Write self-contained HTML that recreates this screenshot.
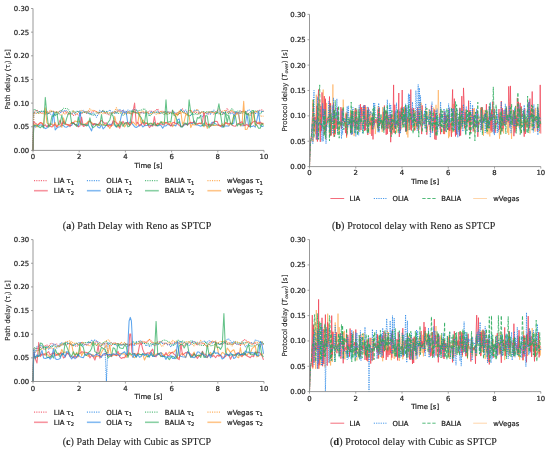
<!DOCTYPE html><html><head><meta charset="utf-8"><style>html,body{margin:0;padding:0;background:#fff;width:550px;height:451px;overflow:hidden}svg{display:block;filter:blur(0.3px)}text{stroke:#262626;stroke-width:0.22px}</style></head><body>
<svg width="550" height="451" viewBox="0 0 550 451" font-family='"DejaVu Sans", "Liberation Sans", sans-serif' font-size="6.9" fill="#262626">
<rect width="550" height="451" fill="#fff"/>
<polyline points="33.0,150.4 33.7,113.4 35.3,111.1 37.0,110.1 38.7,111.9 40.3,112.5 42.0,113.1 43.6,112.0 45.3,112.2 46.9,111.3 48.6,114.2 50.2,111.2 51.9,111.9 53.5,111.2 55.2,112.0 56.8,112.6 58.5,111.9 60.1,111.0 61.8,111.9 63.5,112.3 65.1,111.4 66.8,113.0 68.4,114.7 70.1,113.0 71.7,113.5 73.4,115.4 75.0,114.9 76.7,114.2 78.3,114.9 80.0,115.5 81.6,113.9 83.3,111.9 85.0,112.4 86.6,113.4 88.3,112.3 89.9,111.4 91.6,112.2 93.2,111.6 94.9,110.6 96.5,111.7 98.2,113.1 99.8,112.3 101.5,112.0 103.1,110.7 104.8,113.2 106.4,113.6 108.1,114.1 109.8,115.5 111.4,113.7 113.1,112.3 114.7,113.3 116.4,111.0 118.0,110.6 119.7,110.6 121.3,111.0 123.0,110.4 124.6,113.1 126.3,111.9 127.9,111.3 129.6,114.1 131.3,112.8 132.9,112.9 134.6,111.6 136.2,112.5 137.9,112.4 139.5,111.9 141.2,113.3 142.8,112.0 144.5,112.3 146.1,111.7 147.8,112.7 149.4,111.1 151.1,110.9 152.7,111.8 154.4,111.3 156.1,110.1 157.7,108.9 159.4,112.7 161.0,111.3 162.7,111.2 164.3,111.9 166.0,113.4 167.6,111.2 169.3,113.4 170.9,112.1 172.6,110.5 174.2,113.5 175.9,113.3 177.6,114.5 179.2,113.1 180.9,110.7 182.5,108.9 184.2,112.9 185.8,113.4 187.5,111.9 189.1,110.1 190.8,110.6 192.4,112.5 194.1,112.0 195.7,112.2 197.4,112.5 199.0,113.4 200.7,112.3 202.4,111.9 204.0,112.2 205.7,112.6 207.3,114.1 209.0,113.9 210.6,111.5 212.3,112.2 213.9,114.1 215.6,111.5 217.2,111.2 218.9,109.0 220.5,110.6 222.2,112.1 223.9,114.1 225.5,111.5 227.2,108.5 228.8,111.5 230.5,112.8 232.1,111.8 233.8,113.1 235.4,113.1 237.1,113.2 238.7,112.5 240.4,111.0 242.0,111.6 243.7,110.8 245.3,112.1 247.0,111.8 248.7,114.9 250.3,115.5 252.0,112.9 253.6,113.4 255.3,112.1 256.9,111.5 258.6,110.2 260.2,110.2 261.9,109.9 263.5,111.3" fill="none" stroke="#f03c50" stroke-width="1.05" stroke-dasharray="1 0.9" stroke-opacity="0.85" stroke-linejoin="round"/>
<polyline points="33.0,150.4 33.7,112.4 35.3,113.2 37.0,112.8 38.7,111.8 40.3,111.4 42.0,111.7 43.6,111.3 45.3,113.9 46.9,114.2 48.6,113.1 50.2,113.9 51.9,114.9 53.5,115.2 55.2,115.0 56.8,113.9 58.5,114.4 60.1,113.1 61.8,110.5 63.5,111.6 65.1,110.3 66.8,110.9 68.4,113.1 70.1,113.0 71.7,114.0 73.4,112.1 75.0,113.7 76.7,111.3 78.3,111.1 80.0,114.3 81.6,112.3 83.3,110.3 85.0,112.3 86.6,111.0 88.3,114.0 89.9,112.9 91.6,114.8 93.2,112.9 94.9,115.0 96.5,117.1 98.2,114.2 99.8,110.3 101.5,112.1 103.1,111.1 104.8,111.6 106.4,112.4 108.1,111.5 109.8,109.8 111.4,112.7 113.1,111.8 114.7,111.6 116.4,113.8 118.0,111.0 119.7,109.1 121.3,112.0 123.0,109.9 124.6,111.0 126.3,111.9 127.9,110.1 129.6,110.9 131.3,111.2 132.9,109.8 134.6,109.4 136.2,109.7 137.9,112.8 139.5,114.6 141.2,112.0 142.8,113.4 144.5,112.7 146.1,113.9 147.8,113.4 149.4,114.5 151.1,111.3 152.7,113.1 154.4,112.9 156.1,112.9 157.7,111.0 159.4,113.5 161.0,113.0 162.7,112.9 164.3,111.9 166.0,111.5 167.6,112.5 169.3,112.1 170.9,112.7 172.6,111.9 174.2,112.2 175.9,113.1 177.6,112.8 179.2,112.1 180.9,109.2 182.5,111.4 184.2,111.5 185.8,110.0 187.5,113.9 189.1,115.4 190.8,115.4 192.4,114.0 194.1,110.0 195.7,110.6 197.4,109.9 199.0,111.4 200.7,115.1 202.4,116.7 204.0,113.2 205.7,112.5 207.3,114.1 209.0,111.8 210.6,114.1 212.3,111.7 213.9,110.1 215.6,112.2 217.2,113.7 218.9,111.9 220.5,113.6 222.2,111.8 223.9,113.6 225.5,111.9 227.2,112.0 228.8,112.7 230.5,113.7 232.1,112.7 233.8,115.0 235.4,114.0 237.1,113.7 238.7,112.1 240.4,113.9 242.0,110.8 243.7,112.0 245.3,113.7 247.0,111.2 248.7,109.6 250.3,111.2 252.0,112.9 253.6,112.6 255.3,113.4 256.9,113.3 258.6,110.7 260.2,111.0 261.9,111.5 263.5,111.4" fill="none" stroke="#1e82e6" stroke-width="1.05" stroke-dasharray="1 0.9" stroke-opacity="0.85" stroke-linejoin="round"/>
<polyline points="33.0,150.4 33.7,109.4 35.3,109.7 37.0,111.2 38.7,113.5 40.3,111.0 42.0,111.3 43.6,111.3 45.3,111.4 46.9,113.2 48.6,113.2 50.2,112.4 51.9,111.0 53.5,111.6 55.2,116.0 56.8,114.5 58.5,113.0 60.1,110.9 61.8,110.7 63.5,108.2 65.1,108.4 66.8,108.6 68.4,109.2 70.1,112.6 71.7,111.3 73.4,111.0 75.0,112.4 76.7,111.6 78.3,111.4 80.0,112.5 81.6,112.6 83.3,112.8 85.0,112.3 86.6,112.8 88.3,111.9 89.9,114.6 91.6,113.8 93.2,115.3 94.9,114.4 96.5,112.7 98.2,112.5 99.8,112.5 101.5,112.3 103.1,110.3 104.8,112.8 106.4,111.4 108.1,113.8 109.8,113.7 111.4,112.8 113.1,113.7 114.7,112.7 116.4,111.6 118.0,113.5 119.7,113.0 121.3,113.2 123.0,115.3 124.6,114.1 126.3,114.2 127.9,111.5 129.6,113.1 131.3,110.5 132.9,112.1 134.6,109.7 136.2,110.3 137.9,110.7 139.5,110.5 141.2,110.2 142.8,109.4 144.5,108.6 146.1,110.9 147.8,113.3 149.4,116.3 151.1,114.8 152.7,112.6 154.4,112.0 156.1,112.0 157.7,112.6 159.4,113.3 161.0,113.2 162.7,112.2 164.3,114.6 166.0,112.5 167.6,114.3 169.3,113.5 170.9,113.8 172.6,113.5 174.2,114.3 175.9,114.8 177.6,113.9 179.2,114.5 180.9,110.2 182.5,111.8 184.2,112.9 185.8,113.4 187.5,114.3 189.1,116.5 190.8,114.8 192.4,113.1 194.1,114.7 195.7,113.5 197.4,114.5 199.0,113.5 200.7,112.4 202.4,111.8 204.0,111.5 205.7,112.8 207.3,111.4 209.0,112.5 210.6,112.0 212.3,111.2 213.9,112.2 215.6,113.9 217.2,112.3 218.9,113.8 220.5,114.2 222.2,114.7 223.9,112.4 225.5,112.6 227.2,115.4 228.8,112.9 230.5,109.9 232.1,108.8 233.8,111.3 235.4,111.7 237.1,111.4 238.7,110.7 240.4,111.5 242.0,113.3 243.7,111.9 245.3,111.3 247.0,113.6 248.7,113.4 250.3,112.5 252.0,112.5 253.6,111.7 255.3,111.0 256.9,111.0 258.6,111.8 260.2,113.8 261.9,112.3 263.5,110.5" fill="none" stroke="#28aa5a" stroke-width="1.05" stroke-dasharray="1 0.9" stroke-opacity="0.85" stroke-linejoin="round"/>
<polyline points="33.0,150.4 33.7,112.7 35.3,113.3 37.0,113.4 38.7,113.2 40.3,113.0 42.0,113.6 43.6,113.8 45.3,113.2 46.9,112.4 48.6,112.6 50.2,110.3 51.9,111.1 53.5,111.6 55.2,112.9 56.8,111.4 58.5,113.3 60.1,115.0 61.8,115.0 63.5,113.0 65.1,114.2 66.8,111.7 68.4,112.1 70.1,114.3 71.7,113.7 73.4,110.8 75.0,112.8 76.7,114.4 78.3,112.8 80.0,110.9 81.6,110.4 83.3,111.9 85.0,111.9 86.6,111.8 88.3,110.6 89.9,108.7 91.6,110.8 93.2,109.9 94.9,111.7 96.5,111.3 98.2,113.1 99.8,113.8 101.5,112.6 103.1,113.7 104.8,112.0 106.4,113.0 108.1,112.6 109.8,112.7 111.4,113.0 113.1,112.6 114.7,111.1 116.4,107.8 118.0,111.7 119.7,111.7 121.3,112.3 123.0,113.6 124.6,112.7 126.3,113.8 127.9,113.2 129.6,111.2 131.3,114.5 132.9,113.2 134.6,112.3 136.2,113.6 137.9,112.4 139.5,112.0 141.2,112.7 142.8,111.0 144.5,113.5 146.1,112.2 147.8,112.6 149.4,114.0 151.1,113.5 152.7,113.4 154.4,111.9 156.1,114.2 157.7,113.6 159.4,113.7 161.0,111.0 162.7,113.2 164.3,111.5 166.0,114.3 167.6,113.0 169.3,112.9 170.9,112.2 172.6,113.3 174.2,115.5 175.9,116.0 177.6,112.6 179.2,112.3 180.9,113.5 182.5,111.9 184.2,113.2 185.8,113.8 187.5,114.8 189.1,112.1 190.8,109.8 192.4,112.4 194.1,112.1 195.7,111.0 197.4,109.0 199.0,113.9 200.7,113.1 202.4,112.0 204.0,114.2 205.7,112.8 207.3,112.4 209.0,111.6 210.6,112.8 212.3,112.1 213.9,113.2 215.6,112.1 217.2,112.1 218.9,112.8 220.5,114.6 222.2,111.4 223.9,110.5 225.5,110.4 227.2,112.4 228.8,112.9 230.5,110.6 232.1,110.6 233.8,112.7 235.4,112.6 237.1,112.4 238.7,112.7 240.4,113.9 242.0,111.6 243.7,111.3 245.3,112.2 247.0,114.4 248.7,114.3 250.3,113.4 252.0,111.8 253.6,112.7 255.3,111.2 256.9,111.7 258.6,113.1 260.2,116.5 261.9,116.0 263.5,116.2" fill="none" stroke="#ff9628" stroke-width="1.05" stroke-dasharray="1 0.9" stroke-opacity="0.85" stroke-linejoin="round"/>
<polyline points="33.0,150.4 33.7,125.1 35.3,127.1 37.0,125.8 38.7,126.1 40.3,124.9 42.0,124.9 43.6,127.1 45.3,128.6 46.9,128.0 48.6,125.4 50.2,124.7 51.9,124.5 53.5,111.9 55.2,130.0 56.8,128.1 58.5,126.9 60.1,126.8 61.8,125.4 63.5,125.6 65.1,127.1 66.8,127.2 68.4,125.9 70.1,125.4 71.7,125.5 73.4,122.2 75.0,124.5 76.7,124.8 78.3,126.5 80.0,110.9 81.6,125.0 83.3,124.4 85.0,125.2 86.6,124.7 88.3,125.0 89.9,127.8 91.6,130.9 93.2,124.3 94.9,123.8 96.5,124.8 98.2,127.5 99.8,128.0 101.5,124.5 103.1,128.9 104.8,127.2 106.4,124.9 108.1,124.9 109.8,124.1 111.4,125.0 113.1,121.9 114.7,125.4 116.4,127.2 118.0,125.7 119.7,123.5 121.3,115.8 123.0,111.9 124.6,112.2 126.3,112.9 127.9,124.1 129.6,122.6 131.3,122.1 132.9,124.7 134.6,126.7 136.2,127.5 137.9,126.5 139.5,125.0 141.2,124.5 142.8,127.0 144.5,125.7 146.1,125.5 147.8,125.3 149.4,125.3 151.1,125.6 152.7,124.6 154.4,124.9 156.1,124.8 157.7,126.1 159.4,125.1 161.0,125.4 162.7,128.3 164.3,125.8 166.0,125.9 167.6,124.3 169.3,125.1 170.9,125.4 172.6,125.1 174.2,125.2 175.9,125.9 177.6,119.8 179.2,119.0 180.9,126.9 182.5,126.4 184.2,124.9 185.8,124.6 187.5,124.3 189.1,123.8 190.8,123.0 192.4,124.0 194.1,120.8 195.7,124.9 197.4,124.8 199.0,125.6 200.7,126.2 202.4,125.3 204.0,123.3 205.7,125.5 207.3,126.4 209.0,124.7 210.6,124.3 212.3,122.2 213.9,122.7 215.6,123.9 217.2,125.2 218.9,125.0 220.5,125.4 222.2,127.3 223.9,126.1 225.5,125.9 227.2,125.9 228.8,126.1 230.5,123.3 232.1,123.6 233.8,123.3 235.4,112.0 237.1,112.3 238.7,113.9 240.4,125.4 242.0,125.8 243.7,125.8 245.3,124.2 247.0,114.0 248.7,126.3 250.3,126.3 252.0,126.6 253.6,125.6 255.3,127.1 256.9,119.8 258.6,111.9 260.2,125.1 261.9,126.5 263.5,126.6" fill="none" stroke="#1e82e6" stroke-width="1.05" stroke-opacity="0.72" stroke-linejoin="round"/>
<polyline points="33.0,150.4 33.7,124.0 35.3,124.6 37.0,127.1 38.7,123.7 40.3,122.8 42.0,123.1 43.6,125.4 45.3,107.8 46.9,122.8 48.6,124.2 50.2,123.8 51.9,123.9 53.5,126.1 55.2,122.4 56.8,127.0 58.5,125.1 60.1,124.8 61.8,127.3 63.5,117.9 65.1,123.7 66.8,124.0 68.4,125.7 70.1,124.1 71.7,122.3 73.4,123.2 75.0,120.9 76.7,121.5 78.3,121.9 80.0,121.0 81.6,124.2 83.3,125.2 85.0,123.8 86.6,123.2 88.3,121.3 89.9,121.2 91.6,122.8 93.2,123.4 94.9,124.4 96.5,125.0 98.2,125.4 99.8,123.2 101.5,124.7 103.1,125.1 104.8,124.4 106.4,125.2 108.1,125.1 109.8,128.4 111.4,125.3 113.1,125.2 114.7,116.4 116.4,123.7 118.0,127.3 119.7,121.3 121.3,122.8 123.0,123.4 124.6,127.0 126.3,124.2 127.9,123.5 129.6,124.5 131.3,123.8 132.9,121.8 134.6,123.7 136.2,125.5 137.9,122.3 139.5,112.4 141.2,123.8 142.8,119.9 144.5,122.1 146.1,123.5 147.8,123.3 149.4,124.4 151.1,123.8 152.7,123.6 154.4,125.0 156.1,124.8 157.7,123.8 159.4,123.2 161.0,122.7 162.7,122.1 164.3,122.8 166.0,122.6 167.6,124.1 169.3,124.5 170.9,122.4 172.6,126.8 174.2,124.5 175.9,113.2 177.6,115.7 179.2,111.0 180.9,112.3 182.5,124.3 184.2,121.4 185.8,114.3 187.5,115.4 189.1,115.7 190.8,127.6 192.4,124.3 194.1,124.9 195.7,124.5 197.4,123.9 199.0,123.4 200.7,123.0 202.4,123.5 204.0,126.7 205.7,122.7 207.3,128.4 209.0,123.8 210.6,125.1 212.3,124.9 213.9,125.4 215.6,125.4 217.2,124.7 218.9,124.9 220.5,126.4 222.2,123.7 223.9,125.0 225.5,122.2 227.2,123.7 228.8,125.3 230.5,123.9 232.1,122.6 233.8,115.9 235.4,115.4 237.1,112.9 238.7,115.3 240.4,126.1 242.0,124.7 243.7,101.2 245.3,129.5 247.0,129.2 248.7,125.6 250.3,123.7 252.0,123.0 253.6,112.4 255.3,125.9 256.9,123.8 258.6,122.1 260.2,124.6 261.9,122.8 263.5,124.3" fill="none" stroke="#ff9628" stroke-width="1.05" stroke-opacity="0.72" stroke-linejoin="round"/>
<polyline points="33.0,150.4 33.7,121.4 35.3,123.1 37.0,124.3 38.7,124.6 40.3,122.5 42.0,123.2 43.6,126.2 45.3,124.9 46.9,126.8 48.6,124.8 50.2,126.3 51.9,127.1 53.5,125.0 55.2,124.5 56.8,127.0 58.5,123.9 60.1,120.1 61.8,125.0 63.5,121.2 65.1,124.0 66.8,124.8 68.4,124.6 70.1,126.7 71.7,122.8 73.4,122.6 75.0,124.7 76.7,124.7 78.3,126.9 80.0,125.7 81.6,117.1 83.3,126.5 85.0,125.7 86.6,124.4 88.3,122.3 89.9,120.9 91.6,123.5 93.2,125.0 94.9,123.6 96.5,124.4 98.2,124.6 99.8,122.3 101.5,120.4 103.1,122.0 104.8,123.5 106.4,122.8 108.1,126.7 109.8,125.1 111.4,126.2 113.1,120.7 114.7,121.4 116.4,122.7 118.0,123.7 119.7,128.2 121.3,124.4 123.0,121.3 124.6,124.1 126.3,122.8 127.9,122.2 129.6,125.9 131.3,123.1 132.9,112.2 134.6,103.1 136.2,123.4 137.9,122.4 139.5,126.0 141.2,124.6 142.8,122.3 144.5,125.4 146.1,122.8 147.8,124.2 149.4,127.6 151.1,125.6 152.7,126.3 154.4,116.6 156.1,126.1 157.7,123.0 159.4,124.8 161.0,123.7 162.7,124.8 164.3,124.8 166.0,122.2 167.6,122.9 169.3,124.2 170.9,126.2 172.6,122.8 174.2,122.2 175.9,123.8 177.6,123.4 179.2,125.5 180.9,126.3 182.5,126.3 184.2,124.3 185.8,123.5 187.5,125.1 189.1,123.1 190.8,122.2 192.4,122.9 194.1,121.7 195.7,123.5 197.4,124.0 199.0,123.1 200.7,123.7 202.4,122.4 204.0,112.7 205.7,122.1 207.3,124.5 209.0,124.4 210.6,126.5 212.3,123.9 213.9,121.7 215.6,121.2 217.2,121.4 218.9,125.6 220.5,125.9 222.2,125.5 223.9,126.2 225.5,122.9 227.2,123.2 228.8,123.7 230.5,123.0 232.1,125.2 233.8,126.0 235.4,126.3 237.1,124.0 238.7,123.4 240.4,122.7 242.0,121.6 243.7,125.3 245.3,125.4 247.0,124.3 248.7,126.4 250.3,125.8 252.0,122.9 253.6,121.6 255.3,121.1 256.9,122.7 258.6,123.8 260.2,122.0 261.9,123.8 263.5,123.3" fill="none" stroke="#f03c50" stroke-width="1.05" stroke-opacity="0.72" stroke-linejoin="round"/>
<polyline points="33.0,150.4 33.7,125.2 35.3,125.4 37.0,125.1 38.7,126.8 40.3,127.8 42.0,125.9 43.6,128.0 45.3,97.4 46.9,114.0 48.6,127.2 50.2,125.1 51.9,116.1 53.5,116.1 55.2,112.9 56.8,111.9 58.5,124.4 60.1,123.8 61.8,115.2 63.5,124.0 65.1,124.0 66.8,117.9 68.4,113.6 70.1,113.1 71.7,123.5 73.4,123.4 75.0,124.4 76.7,126.5 78.3,116.8 80.0,123.9 81.6,124.1 83.3,124.3 85.0,124.4 86.6,126.0 88.3,124.6 89.9,117.8 91.6,125.8 93.2,127.6 94.9,126.4 96.5,124.0 98.2,124.8 99.8,125.4 101.5,114.6 103.1,124.8 104.8,125.3 106.4,125.5 108.1,122.3 109.8,120.0 111.4,113.7 113.1,116.1 114.7,124.0 116.4,126.6 118.0,124.5 119.7,126.5 121.3,121.9 123.0,126.4 124.6,123.2 126.3,122.6 127.9,126.9 129.6,125.9 131.3,114.8 132.9,110.5 134.6,112.3 136.2,112.8 137.9,113.0 139.5,115.8 141.2,117.5 142.8,122.3 144.5,123.4 146.1,111.3 147.8,125.1 149.4,123.6 151.1,123.0 152.7,125.5 154.4,122.4 156.1,125.6 157.7,125.5 159.4,124.1 161.0,121.4 162.7,123.9 164.3,123.8 166.0,99.8 167.6,122.5 169.3,121.8 170.9,121.7 172.6,110.0 174.2,115.2 175.9,116.7 177.6,123.7 179.2,121.5 180.9,126.8 182.5,127.0 184.2,123.1 185.8,123.2 187.5,125.2 189.1,99.8 190.8,112.7 192.4,113.3 194.1,123.3 195.7,124.3 197.4,117.6 199.0,118.3 200.7,115.5 202.4,125.8 204.0,125.7 205.7,115.6 207.3,116.0 209.0,128.0 210.6,125.0 212.3,124.7 213.9,124.9 215.6,113.4 217.2,112.3 218.9,103.8 220.5,113.8 222.2,125.3 223.9,127.3 225.5,112.1 227.2,122.7 228.8,115.0 230.5,123.2 232.1,124.9 233.8,115.3 235.4,116.1 237.1,126.1 238.7,123.9 240.4,124.9 242.0,123.7 243.7,124.0 245.3,111.9 247.0,114.8 248.7,114.3 250.3,127.7 252.0,110.4 253.6,110.6 255.3,124.1 256.9,125.2 258.6,128.3 260.2,128.3 261.9,123.6 263.5,125.6" fill="none" stroke="#28aa5a" stroke-width="1.05" stroke-opacity="0.72" stroke-linejoin="round"/>
<path d="M33.00 8.50V150.40H264.00" fill="none" stroke="#8c8c8c" stroke-width="0.9"/>
<path d="M31.00 150.40H33.00" stroke="#8c8c8c" stroke-width="0.8"/>
<text x="29.20" y="152.80" text-anchor="end">0.00</text>
<path d="M31.00 126.75H33.00" stroke="#8c8c8c" stroke-width="0.8"/>
<text x="29.20" y="129.15" text-anchor="end">0.05</text>
<path d="M31.00 103.10H33.00" stroke="#8c8c8c" stroke-width="0.8"/>
<text x="29.20" y="105.50" text-anchor="end">0.10</text>
<path d="M31.00 79.45H33.00" stroke="#8c8c8c" stroke-width="0.8"/>
<text x="29.20" y="81.85" text-anchor="end">0.15</text>
<path d="M31.00 55.80H33.00" stroke="#8c8c8c" stroke-width="0.8"/>
<text x="29.20" y="58.20" text-anchor="end">0.20</text>
<path d="M31.00 32.15H33.00" stroke="#8c8c8c" stroke-width="0.8"/>
<text x="29.20" y="34.55" text-anchor="end">0.25</text>
<path d="M31.00 8.50H33.00" stroke="#8c8c8c" stroke-width="0.8"/>
<text x="29.20" y="10.90" text-anchor="end">0.30</text>
<path d="M33.00 150.40V152.40" stroke="#8c8c8c" stroke-width="0.8"/>
<text x="33.00" y="159.00" text-anchor="middle">0</text>
<path d="M79.20 150.40V152.40" stroke="#8c8c8c" stroke-width="0.8"/>
<text x="79.20" y="159.00" text-anchor="middle">2</text>
<path d="M125.40 150.40V152.40" stroke="#8c8c8c" stroke-width="0.8"/>
<text x="125.40" y="159.00" text-anchor="middle">4</text>
<path d="M171.60 150.40V152.40" stroke="#8c8c8c" stroke-width="0.8"/>
<text x="171.60" y="159.00" text-anchor="middle">6</text>
<path d="M217.80 150.40V152.40" stroke="#8c8c8c" stroke-width="0.8"/>
<text x="217.80" y="159.00" text-anchor="middle">8</text>
<path d="M264.00 150.40V152.40" stroke="#8c8c8c" stroke-width="0.8"/>
<text x="264.00" y="159.00" text-anchor="middle">10</text>
<text x="148.50" y="167.60" text-anchor="middle">Time [s]</text>
<text transform="translate(10.30 79.45) rotate(-90)" text-anchor="middle" style="stroke-width:0.12px">Path delay (τ<tspan font-size="4.6" dy="1.2">i</tspan><tspan dy="-1.2">) [s]</tspan></text>
<path d="M34.0 180.7h13.8" stroke="#f03c50" stroke-opacity="0.75" stroke-width="1.3" stroke-dasharray="1.1 1.2"/>
<path d="M34.0 190.7h13.8" stroke="#f03c50" stroke-opacity="0.55" stroke-width="1.6"/>
<text x="53.8" y="183.1">LIA τ<tspan font-size="5.2" dy="1.6">1</tspan></text>
<text x="53.8" y="193.1">LIA τ<tspan font-size="5.2" dy="1.6">2</tspan></text>
<path d="M86.9 180.7h13.8" stroke="#1e82e6" stroke-opacity="0.75" stroke-width="1.3" stroke-dasharray="1.1 1.2"/>
<path d="M86.9 190.7h13.8" stroke="#1e82e6" stroke-opacity="0.55" stroke-width="1.6"/>
<text x="106.3" y="183.1">OLIA τ<tspan font-size="5.2" dy="1.6">1</tspan></text>
<text x="106.3" y="193.1">OLIA τ<tspan font-size="5.2" dy="1.6">2</tspan></text>
<path d="M145.0 180.7h13.8" stroke="#28aa5a" stroke-opacity="0.75" stroke-width="1.3" stroke-dasharray="1.1 1.2"/>
<path d="M145.0 190.7h13.8" stroke="#28aa5a" stroke-opacity="0.55" stroke-width="1.6"/>
<text x="164.7" y="183.1">BALIA τ<tspan font-size="5.2" dy="1.6">1</tspan></text>
<text x="164.7" y="193.1">BALIA τ<tspan font-size="5.2" dy="1.6">2</tspan></text>
<path d="M207.4 180.7h13.8" stroke="#ff9628" stroke-opacity="0.75" stroke-width="1.3" stroke-dasharray="1.1 1.2"/>
<path d="M207.4 190.7h13.8" stroke="#ff9628" stroke-opacity="0.55" stroke-width="1.6"/>
<text x="227.0" y="183.1">wVegas τ<tspan font-size="5.2" dy="1.6">1</tspan></text>
<text x="227.0" y="193.1">wVegas τ<tspan font-size="5.2" dy="1.6">2</tspan></text>
<text x="62.7" y="228.7" font-family='"Liberation Serif", "DejaVu Serif", serif' font-size="10" fill="#222" style="stroke-width:0.1px;stroke:#222" textLength="148.5" lengthAdjust="spacing">(<tspan font-weight="bold">a</tspan>) Path Delay with Reno as SPTCP</text>
<polyline points="309.5,166.6 310.4,143.8 311.4,136.2 312.3,141.0 312.8,99.5 313.4,141.6 314.0,115.2 314.6,114.1 315.1,114.1 315.7,134.2 316.3,94.7 316.9,130.6 317.4,118.4 318.0,118.2 318.6,116.2 319.1,132.3 319.7,100.0 320.3,132.9 320.9,113.9 321.4,115.8 322.0,121.9 322.6,118.1 323.2,89.5 323.7,136.1 324.3,119.6 324.9,122.9 325.4,99.9 326.0,139.6 326.6,102.9 327.2,121.4 327.7,121.9 328.3,123.8 328.9,124.6 329.5,103.2 330.0,133.8 330.6,122.4 331.2,119.6 331.7,125.3 332.3,120.1 332.9,84.4 333.5,134.6 334.0,108.3 334.6,134.6 335.2,117.9 335.8,120.3 336.3,121.5 336.9,124.9 337.5,121.2 338.0,131.2 338.6,113.3 339.2,132.9 339.8,124.9 340.3,126.8 340.9,123.1 341.5,120.0 342.1,122.5 342.6,124.9 343.2,99.6 343.8,114.3 344.3,121.1 344.9,125.3 345.5,124.6 346.1,112.3 346.6,138.0 347.2,112.3 347.8,117.9 348.4,122.5 348.9,123.4 349.5,119.0 350.1,117.7 350.6,110.3 351.2,125.5 351.8,124.6 352.4,121.3 352.9,119.7 353.5,111.1 354.1,136.2 354.7,110.9 355.2,126.4 355.8,122.7 356.4,123.6 356.9,120.4 357.5,121.0 358.1,122.1 358.7,131.9 359.2,108.5 359.8,132.1 360.4,122.5 361.0,119.7 361.5,118.4 362.1,108.7 362.7,125.7 363.2,107.2 363.8,119.1 364.4,120.0 365.0,106.7 365.5,125.2 366.1,107.0 366.7,125.0 367.3,117.9 367.8,118.0 368.4,120.7 369.0,123.4 369.5,113.9 370.1,134.0 370.7,111.1 371.3,129.5 371.8,122.8 372.4,126.1 373.0,124.3 373.6,109.4 374.1,128.7 374.7,114.0 375.3,134.1 375.9,127.2 376.4,124.1 377.0,119.8 377.6,121.4 378.1,106.1 378.7,122.4 379.3,121.9 379.9,119.5 380.4,120.1 381.0,120.2 381.6,116.9 382.2,132.0 382.7,107.1 383.3,129.0 383.9,110.4 384.4,121.0 385.0,118.2 385.6,119.1 386.2,110.4 386.7,126.6 387.3,112.9 387.9,116.2 388.5,118.2 389.0,119.2 389.6,131.6 390.2,114.6 390.7,132.5 391.3,116.3 391.9,128.9 392.5,128.3 393.0,114.8 393.6,132.3 394.2,111.2 394.8,117.3 395.3,120.1 395.9,121.9 396.5,132.8 397.0,111.6 397.6,127.4 398.2,112.2 398.8,123.4 399.3,124.5 399.9,133.2 400.5,112.5 401.1,129.2 401.6,106.6 402.2,118.5 402.8,121.8 403.3,119.2 403.9,116.4 404.5,106.4 405.1,128.1 405.6,124.7 406.2,123.3 406.8,134.5 407.4,116.8 407.9,137.5 408.5,112.1 409.1,119.2 409.6,122.5 410.2,120.4 410.8,112.4 411.4,127.4 411.9,119.0 412.5,119.7 413.1,123.3 413.7,121.7 414.2,121.0 414.8,110.7 415.4,130.2 415.9,110.7 416.5,127.5 417.1,118.0 417.7,113.7 418.2,110.1 418.8,111.5 419.4,123.3 420.0,102.4 420.5,125.7 421.1,102.6 421.7,119.0 422.2,120.8 422.8,120.4 423.4,116.8 424.0,117.9 424.5,120.6 425.1,127.6 425.7,106.9 426.3,129.6 426.8,116.0 427.4,115.5 428.0,114.4 428.5,118.9 429.1,109.2 429.7,130.5 430.3,119.3 430.8,113.2 431.4,119.1 432.0,121.2 432.6,118.9 433.1,121.8 433.7,107.6 434.3,131.4 434.8,118.8 435.4,119.8 436.0,104.8 436.6,128.5 437.1,114.0 437.7,112.5 438.3,90.0 438.9,114.9 439.4,114.2 440.0,129.6 440.6,108.6 441.1,119.3 441.7,122.6 442.3,123.6 442.9,120.6 443.4,133.9 444.0,110.3 444.6,134.1 445.2,112.6 445.7,125.2 446.3,123.5 446.9,125.8 447.4,128.6 448.0,116.2 448.6,138.2 449.2,113.9 449.7,136.6 450.3,126.6 450.9,122.5 451.5,125.1 452.0,115.0 452.6,132.5 453.2,103.9 453.7,120.2 454.3,121.3 454.9,132.0 455.5,111.4 456.0,133.1 456.6,109.5 457.2,122.1 457.8,122.0 458.3,121.6 458.9,132.0 459.5,107.8 460.0,128.2 460.6,117.3 461.2,114.9 461.8,128.9 462.3,105.2 462.9,125.4 463.5,120.8 464.1,117.7 464.6,119.8 465.2,130.9 465.8,109.2 466.3,126.7 466.9,124.1 467.5,118.4 468.1,123.2 468.6,117.7 469.2,117.6 469.8,125.6 470.4,111.2 470.9,124.3 471.5,114.2 472.1,119.4 472.6,119.2 473.2,108.7 473.8,128.3 474.4,108.1 474.9,133.4 475.5,124.2 476.1,124.2 476.7,120.8 477.2,113.5 477.8,128.7 478.4,118.7 478.9,116.4 479.5,120.8 480.1,119.5 480.7,107.9 481.2,130.4 481.8,117.4 482.4,117.6 483.0,121.5 483.5,135.9 484.1,109.9 484.7,122.9 485.2,122.2 485.8,122.8 486.4,119.0 487.0,133.6 487.5,111.6 488.1,134.4 488.7,120.9 489.3,123.0 489.8,136.5 490.4,112.8 491.0,133.0 491.5,109.0 492.1,121.4 492.7,123.2 493.3,124.5 493.8,129.5 494.4,112.6 495.0,131.3 495.6,115.6 496.1,124.6 496.7,127.4 497.3,127.3 497.8,130.0 498.4,129.7 499.0,130.1 499.6,138.8 500.1,113.8 500.7,134.6 501.3,113.1 501.9,117.7 502.4,122.6 503.0,110.2 503.6,133.4 504.1,111.4 504.7,122.7 505.3,118.2 505.9,118.1 506.4,119.7 507.0,122.1 507.6,132.8 508.2,114.5 508.7,135.0 509.3,122.7 509.9,123.4 510.4,123.4 511.0,124.6 511.6,139.0 512.2,116.4 512.7,128.3 513.3,127.3 513.9,124.8 514.5,121.2 515.0,130.3 515.6,105.7 516.2,129.0 516.7,118.0 517.3,124.5 517.9,123.1 518.5,124.4 519.0,127.8 519.6,123.6 520.2,114.0 520.8,133.1 521.3,115.2 521.9,125.2 522.5,124.6 523.0,124.8 523.6,123.8 524.2,113.0 524.8,131.3 525.3,116.9 525.9,124.9 526.5,126.6 527.1,128.0 527.6,125.7 528.2,120.7 528.8,127.1 529.3,112.4 529.9,133.4 530.5,110.1 531.1,127.6 531.6,119.8 532.2,119.5 532.8,113.7 533.4,116.9 533.9,125.1 534.5,126.9 535.1,131.7 535.6,107.9 536.2,119.7 536.8,127.3 537.4,127.4 537.9,126.8 538.5,126.3 539.1,113.7 539.7,133.2 540.2,123.6 540.8,124.7" fill="none" stroke="#ff9628" stroke-width="0.95" stroke-opacity="0.5" stroke-linejoin="round"/>
<polyline points="309.5,166.6 310.4,143.8 311.4,136.2 312.3,117.3 312.8,114.6 313.4,102.4 314.0,131.2 314.6,117.9 315.1,117.0 315.7,119.2 316.3,139.6 316.9,105.9 317.4,141.6 318.0,100.5 318.6,89.5 319.1,121.3 319.7,122.2 320.3,141.9 320.9,106.2 321.4,131.0 322.0,92.4 322.6,116.3 323.2,117.7 323.7,112.4 324.3,96.1 324.9,133.3 325.4,98.7 326.0,130.3 326.6,121.6 327.2,118.4 327.7,118.2 328.3,120.1 328.9,121.0 329.5,96.5 330.0,136.1 330.6,103.2 331.2,135.5 331.7,119.7 332.3,121.8 332.9,120.5 333.5,103.2 334.0,136.9 334.6,110.6 335.2,134.3 335.8,118.0 336.3,118.5 336.9,128.9 337.5,107.6 338.0,123.2 338.6,122.6 339.2,122.8 339.8,122.5 340.3,124.7 340.9,107.1 341.5,128.8 342.1,108.7 342.6,120.9 343.2,117.6 343.8,122.1 344.3,122.9 344.9,121.8 345.5,133.1 346.1,113.6 346.6,136.4 347.2,125.1 347.8,126.0 348.4,124.2 348.9,123.8 349.5,120.0 350.1,123.8 350.6,132.9 351.2,112.8 351.8,134.6 352.4,113.6 352.9,126.7 353.5,120.2 354.1,121.9 354.7,121.7 355.2,108.3 355.8,128.3 356.4,109.5 356.9,130.0 357.5,120.4 358.1,118.0 358.7,121.4 359.2,120.1 359.8,117.7 360.4,104.1 361.0,130.0 361.5,107.2 362.1,115.4 362.7,114.9 363.2,115.4 363.8,105.3 364.4,130.9 365.0,105.1 365.5,130.3 366.1,120.0 366.7,119.1 367.3,110.2 367.8,135.0 368.4,107.6 369.0,118.6 369.5,124.1 370.1,124.8 370.7,124.0 371.3,118.2 371.8,135.9 372.4,114.1 373.0,139.4 373.6,117.1 374.1,124.6 374.7,120.8 375.3,119.3 375.9,123.1 376.4,119.9 377.0,119.1 377.6,128.1 378.1,109.5 378.7,131.1 379.3,107.5 379.9,124.4 380.4,123.8 381.0,120.5 381.6,122.0 382.2,128.1 382.7,121.3 383.3,112.0 383.9,130.3 384.4,105.5 385.0,116.0 385.6,121.8 386.2,134.8 386.7,111.3 387.3,134.1 387.9,115.0 388.5,125.9 389.0,128.4 389.6,126.4 390.2,114.1 390.7,142.2 391.3,114.5 391.9,134.4 392.5,124.4 393.0,124.5 393.6,84.9 394.2,133.0 394.8,104.7 395.3,128.3 395.9,123.6 396.5,123.4 397.0,122.8 397.6,125.1 398.2,122.3 398.8,93.0 399.3,136.9 399.9,111.5 400.5,130.9 401.1,107.7 401.6,118.6 402.2,90.0 402.8,124.8 403.3,118.3 403.9,118.8 404.5,120.9 405.1,107.3 405.6,131.6 406.2,108.2 406.8,130.9 407.4,122.1 407.9,117.6 408.5,120.5 409.1,121.8 409.6,119.1 410.2,129.6 410.8,89.5 411.4,130.6 411.9,108.4 412.5,116.1 413.1,118.3 413.7,108.0 414.2,130.7 414.8,123.6 415.4,119.8 415.9,121.1 416.5,118.2 417.1,126.6 417.7,107.4 418.2,130.7 418.8,111.9 419.4,120.5 420.0,122.6 420.5,124.3 421.1,124.3 421.7,134.1 422.2,105.4 422.8,123.8 423.4,122.3 424.0,122.3 424.5,123.9 425.1,118.4 425.7,120.9 426.3,111.5 426.8,134.7 427.4,128.0 428.0,125.4 428.5,123.7 429.1,121.5 429.7,122.9 430.3,125.4 430.8,132.9 431.4,105.5 432.0,124.1 432.6,125.7 433.1,128.3 433.7,125.0 434.3,109.4 434.8,139.3 435.4,113.6 436.0,139.9 436.6,128.6 437.1,128.4 437.7,126.6 438.3,125.0 438.9,126.0 439.4,124.1 440.0,113.3 440.6,134.2 441.1,125.4 441.7,125.2 442.3,126.0 442.9,126.9 443.4,127.2 444.0,134.1 444.6,112.2 445.2,131.4 445.7,115.5 446.3,122.7 446.9,116.4 447.4,117.0 448.0,115.2 448.6,129.9 449.2,108.4 449.7,131.0 450.3,125.4 450.9,123.2 451.5,136.8 452.0,108.7 452.6,89.5 453.2,124.1 453.7,123.7 454.3,98.6 454.9,121.9 455.5,136.5 456.0,113.3 456.6,134.8 457.2,122.7 457.8,119.2 458.3,119.5 458.9,121.3 459.5,136.2 460.0,108.3 460.6,135.6 461.2,119.2 461.8,96.1 462.3,123.9 462.9,121.9 463.5,87.9 464.1,102.1 464.6,128.1 465.2,112.1 465.8,122.3 466.3,121.5 466.9,120.3 467.5,122.4 468.1,121.3 468.6,100.6 469.2,130.0 469.8,110.4 470.4,133.3 470.9,119.2 471.5,120.2 472.1,119.2 472.6,108.6 473.2,131.5 473.8,115.8 474.4,125.9 474.9,125.8 475.5,124.1 476.1,126.4 476.7,122.1 477.2,110.3 477.8,136.8 478.4,122.1 478.9,124.6 479.5,122.9 480.1,122.5 480.7,120.9 481.2,107.2 481.8,129.7 482.4,107.4 483.0,117.7 483.5,122.2 484.1,118.9 484.7,117.2 485.2,112.9 485.8,119.3 486.4,104.1 487.0,128.7 487.5,119.5 488.1,117.4 488.7,127.8 489.3,106.3 489.8,117.8 490.4,115.4 491.0,130.5 491.5,110.4 492.1,131.8 492.7,101.7 493.3,118.3 493.8,117.7 494.4,109.1 495.0,133.0 495.6,123.1 496.1,124.5 496.7,122.7 497.3,124.0 497.8,120.4 498.4,117.7 499.0,109.0 499.6,129.6 500.1,115.1 500.7,114.3 501.3,101.0 501.9,131.6 502.4,108.2 503.0,128.9 503.6,119.4 504.1,116.0 504.7,123.7 505.3,109.1 505.9,125.1 506.4,107.8 507.0,117.8 507.6,120.3 508.2,122.4 508.7,86.4 509.3,101.7 509.9,126.3 510.4,85.9 511.0,117.3 511.6,117.6 512.2,123.2 512.7,123.2 513.3,110.0 513.9,136.2 514.5,111.4 515.0,132.6 515.6,116.2 516.2,115.4 516.7,126.9 517.3,97.9 517.9,125.4 518.5,101.7 519.0,113.8 519.6,114.7 520.2,102.9 520.8,126.0 521.3,106.3 521.9,117.0 522.5,114.0 523.0,115.6 523.6,118.7 524.2,136.7 524.8,108.5 525.3,134.0 525.9,121.3 526.5,122.4 527.1,125.4 527.6,118.0 528.2,119.4 528.8,102.0 529.3,128.2 529.9,98.6 530.5,115.4 531.1,113.7 531.6,118.0 532.2,91.5 532.8,122.0 533.4,129.8 533.9,109.3 534.5,121.1 535.1,121.0 535.6,118.8 536.2,118.4 536.8,120.8 537.4,131.3 537.9,107.3 538.5,122.3 539.1,123.3 539.7,126.6 540.2,84.9 540.8,133.6" fill="none" stroke="#f03c50" stroke-width="0.95" stroke-opacity="0.75" stroke-linejoin="round"/>
<polyline points="309.5,166.6 310.4,143.8 311.4,136.2 312.3,124.1 312.8,143.8 313.4,104.3 314.0,90.5 314.6,125.4 315.1,123.5 315.7,120.9 316.3,119.8 316.9,139.4 317.4,96.8 318.0,139.7 318.6,123.0 319.1,124.3 319.7,121.8 320.3,124.8 320.9,124.8 321.4,123.8 322.0,141.4 322.6,103.3 323.2,141.4 323.7,108.7 324.3,124.6 324.9,123.9 325.4,109.3 326.0,143.8 326.6,125.2 327.2,126.5 327.7,123.0 328.3,118.1 328.9,101.0 329.5,130.5 330.0,120.3 330.6,119.3 331.2,119.4 331.7,121.8 332.3,105.5 332.9,133.8 333.5,97.9 334.0,116.2 334.6,113.5 335.2,119.2 335.8,118.0 336.3,118.5 336.9,98.8 337.5,132.8 338.0,110.6 338.6,124.2 339.2,122.7 339.8,121.2 340.3,123.4 340.9,126.7 341.5,138.7 342.1,110.9 342.6,134.3 343.2,109.4 343.8,121.2 344.3,117.8 344.9,122.6 345.5,119.1 346.1,122.1 346.6,120.1 347.2,106.3 347.8,127.7 348.4,105.9 348.9,125.5 349.5,123.0 350.1,117.5 350.6,121.4 351.2,134.9 351.8,110.9 352.4,134.1 352.9,107.2 353.5,119.5 354.1,120.1 354.7,133.1 355.2,111.9 355.8,136.5 356.4,124.0 356.9,120.9 357.5,120.0 358.1,125.7 358.7,135.2 359.2,105.3 359.8,130.3 360.4,109.8 361.0,118.3 361.5,121.7 362.1,122.6 362.7,133.7 363.2,106.1 363.8,129.1 364.4,105.1 365.0,118.3 365.5,117.8 366.1,124.1 366.7,124.2 367.3,117.1 367.8,106.6 368.4,132.8 369.0,109.1 369.5,115.9 370.1,115.0 370.7,111.1 371.3,114.0 371.8,113.3 372.4,116.2 373.0,129.1 373.6,102.6 374.1,126.2 374.7,103.1 375.3,112.9 375.9,115.2 376.4,115.1 377.0,114.7 377.6,115.4 378.1,132.6 378.7,103.1 379.3,132.2 379.9,123.0 380.4,117.4 381.0,121.4 381.6,120.0 382.2,121.2 382.7,123.4 383.3,130.7 383.9,107.6 384.4,120.6 385.0,118.2 385.6,121.4 386.2,119.9 386.7,127.8 387.3,99.7 387.9,111.9 388.5,122.1 389.0,119.1 389.6,103.7 390.2,132.3 390.7,104.6 391.3,121.5 391.9,120.4 392.5,121.5 393.0,119.7 393.6,123.8 394.2,124.2 394.8,127.7 395.3,110.8 395.9,129.1 396.5,102.8 397.0,125.0 397.6,119.2 398.2,125.1 398.8,128.1 399.3,133.6 399.9,109.7 400.5,133.4 401.1,119.2 401.6,119.6 402.2,115.8 402.8,122.6 403.3,106.8 403.9,119.0 404.5,116.4 405.1,125.0 405.6,103.8 406.2,131.2 406.8,105.6 407.4,117.3 407.9,110.7 408.5,93.7 409.1,123.2 409.6,94.3 410.2,110.4 410.8,116.5 411.4,116.5 411.9,125.1 412.5,102.0 413.1,125.6 413.7,117.3 414.2,114.4 414.8,120.6 415.4,120.9 415.9,90.5 416.5,105.6 417.1,130.5 417.7,112.1 418.2,84.4 418.8,124.4 419.4,87.9 420.0,127.0 420.5,95.5 421.1,119.5 421.7,114.9 422.2,120.0 422.8,119.9 423.4,121.4 424.0,125.0 424.5,110.6 425.1,128.9 425.7,103.6 426.3,128.9 426.8,116.6 427.4,119.8 428.0,115.5 428.5,118.9 429.1,125.1 429.7,109.2 430.3,137.4 430.8,117.6 431.4,119.6 432.0,101.8 432.6,133.2 433.1,120.8 433.7,119.4 434.3,120.2 434.8,117.3 435.4,119.7 436.0,110.1 436.6,128.5 437.1,108.7 437.7,132.3 438.3,118.0 438.9,118.0 439.4,117.3 440.0,128.0 440.6,101.8 441.1,123.0 441.7,113.7 442.3,115.3 442.9,118.4 443.4,125.8 444.0,108.5 444.6,131.1 445.2,110.5 445.7,122.6 446.3,116.4 446.9,122.7 447.4,124.6 448.0,129.1 448.6,103.7 449.2,127.7 449.7,107.5 450.3,122.6 450.9,121.3 451.5,121.7 452.0,118.6 452.6,109.1 453.2,130.0 453.7,108.2 454.3,130.6 454.9,118.8 455.5,119.0 456.0,119.7 456.6,133.6 457.2,109.7 457.8,137.4 458.3,121.6 458.9,122.0 459.5,135.5 460.0,107.9 460.6,122.5 461.2,126.3 461.8,122.1 462.3,110.8 462.9,131.5 463.5,104.3 464.1,121.1 464.6,124.7 465.2,121.4 465.8,133.4 466.3,106.4 466.9,126.8 467.5,118.0 468.1,115.3 468.6,116.6 469.2,113.1 469.8,121.2 470.4,101.3 470.9,111.4 471.5,114.1 472.1,120.9 472.6,104.9 473.2,128.4 473.8,116.0 474.4,119.8 474.9,117.1 475.5,111.6 476.1,126.6 476.7,108.7 477.2,132.0 477.8,116.6 478.4,114.1 478.9,116.1 479.5,118.4 480.1,117.7 480.7,131.4 481.2,110.0 481.8,127.8 482.4,121.3 483.0,122.7 483.5,119.5 484.1,123.3 484.7,113.8 485.2,132.8 485.8,112.1 486.4,120.7 487.0,123.3 487.5,125.5 488.1,120.6 488.7,128.8 489.3,106.4 489.8,125.6 490.4,102.4 491.0,118.4 491.5,114.3 492.1,116.0 492.7,123.4 493.3,133.2 493.8,110.1 494.4,135.1 495.0,120.6 495.6,119.0 496.1,120.5 496.7,109.0 497.3,133.0 497.8,113.6 498.4,131.5 499.0,121.4 499.6,120.4 500.1,117.8 500.7,127.4 501.3,101.8 501.9,116.0 502.4,115.3 503.0,122.2 503.6,118.7 504.1,109.7 504.7,125.9 505.3,103.9 505.9,113.7 506.4,116.7 507.0,121.6 507.6,116.2 508.2,119.1 508.7,120.2 509.3,106.3 509.9,128.1 510.4,113.9 511.0,133.1 511.6,121.0 512.2,118.8 512.7,115.8 513.3,116.8 513.9,126.0 514.5,107.7 515.0,126.7 515.6,118.0 516.2,117.5 516.7,118.3 517.3,120.2 517.9,121.3 518.5,121.9 519.0,104.9 519.6,129.2 520.2,120.3 520.8,115.6 521.3,118.8 521.9,119.5 522.5,118.7 523.0,109.3 523.6,130.6 524.2,105.0 524.8,119.1 525.3,119.1 525.9,116.8 526.5,115.7 527.1,110.7 527.6,113.4 528.2,103.0 528.8,130.4 529.3,100.6 529.9,125.7 530.5,115.2 531.1,116.7 531.6,115.7 532.2,120.4 532.8,121.8 533.4,132.3 533.9,104.4 534.5,128.4 535.1,122.4 535.6,120.1 536.2,121.6 536.8,122.7 537.4,107.1 537.9,135.1 538.5,110.2 539.1,131.4 539.7,117.4 540.2,118.2 540.8,119.7" fill="none" stroke="#1e82e6" stroke-width="0.95" stroke-dasharray="1.2 1.1" stroke-opacity="0.8" stroke-linejoin="round"/>
<polyline points="309.5,166.6 310.4,143.8 311.4,136.2 312.3,123.0 312.8,122.1 313.4,99.9 314.0,137.8 314.6,121.3 315.1,121.1 315.7,122.4 316.3,124.1 316.9,122.7 317.4,121.0 318.0,103.8 318.6,139.4 319.1,95.9 319.7,84.9 320.3,124.0 320.9,123.5 321.4,124.8 322.0,123.1 322.6,126.9 323.2,129.2 323.7,115.7 324.3,135.9 324.9,110.2 325.4,138.9 326.0,125.3 326.6,125.7 327.2,123.4 327.7,120.1 328.3,116.6 328.9,120.5 329.5,140.9 330.0,105.8 330.6,135.2 331.2,113.4 331.7,122.5 332.3,123.3 332.9,129.8 333.5,127.6 334.0,109.5 334.6,136.6 335.2,100.4 335.8,117.5 336.3,112.1 336.9,117.2 337.5,117.9 338.0,135.6 338.6,105.9 339.2,138.2 339.8,120.7 340.3,125.3 340.9,125.9 341.5,125.1 342.1,121.7 342.6,120.3 343.2,106.7 343.8,129.7 344.3,121.1 344.9,123.0 345.5,127.4 346.1,127.9 346.6,114.7 347.2,134.3 347.8,125.6 348.4,118.7 348.9,119.8 349.5,123.8 350.1,117.6 350.6,134.0 351.2,102.0 351.8,132.3 352.4,109.8 352.9,121.2 353.5,121.8 354.1,119.0 354.7,121.7 355.2,132.7 355.8,108.1 356.4,120.9 356.9,123.3 357.5,135.3 358.1,109.5 358.7,129.7 359.2,112.4 359.8,121.3 360.4,123.0 361.0,118.0 361.5,121.4 362.1,121.9 362.7,122.0 363.2,133.7 363.8,112.0 364.4,119.7 365.0,121.5 365.5,120.6 366.1,124.2 366.7,127.3 367.3,133.1 367.8,110.7 368.4,132.6 369.0,122.2 369.5,121.7 370.1,125.9 370.7,122.8 371.3,116.6 371.8,117.8 372.4,129.2 373.0,108.9 373.6,123.0 374.1,106.2 374.7,118.0 375.3,117.6 375.9,117.0 376.4,118.1 377.0,121.6 377.6,121.9 378.1,130.7 378.7,109.7 379.3,126.9 379.9,122.9 380.4,123.8 381.0,113.6 381.6,129.3 382.2,120.9 382.7,125.2 383.3,118.9 383.9,132.5 384.4,107.0 385.0,129.2 385.6,109.9 386.2,119.1 386.7,118.8 387.3,104.8 387.9,128.5 388.5,118.7 389.0,122.0 389.6,123.9 390.2,123.8 390.7,124.6 391.3,136.7 391.9,110.6 392.5,129.7 393.0,119.8 393.6,122.5 394.2,121.4 394.8,113.5 395.3,134.8 395.9,124.9 396.5,121.4 397.0,123.5 397.6,109.0 398.2,132.7 398.8,118.5 399.3,117.0 399.9,115.6 400.5,115.0 401.1,119.2 401.6,116.5 402.2,108.4 402.8,127.4 403.3,108.4 403.9,128.0 404.5,114.7 405.1,119.3 405.6,105.2 406.2,131.5 406.8,121.0 407.4,119.8 407.9,118.8 408.5,104.4 409.1,130.1 409.6,109.3 410.2,119.4 410.8,114.4 411.4,119.0 411.9,117.7 412.5,119.5 413.1,133.6 413.7,110.1 414.2,129.5 414.8,112.8 415.4,122.0 415.9,121.3 416.5,125.5 417.1,124.0 417.7,122.7 418.2,121.5 418.8,137.1 419.4,113.1 420.0,123.9 420.5,124.9 421.1,122.7 421.7,110.3 422.2,131.9 422.8,121.3 423.4,118.2 424.0,114.4 424.5,117.0 425.1,117.1 425.7,111.1 426.3,132.0 426.8,108.0 427.4,121.5 428.0,122.0 428.5,120.4 429.1,123.5 429.7,123.7 430.3,110.5 430.8,128.6 431.4,122.4 432.0,122.6 432.6,132.1 433.1,111.7 433.7,124.1 434.3,122.1 434.8,124.5 435.4,121.6 436.0,135.9 436.6,112.9 437.1,135.9 437.7,115.1 438.3,125.7 438.9,123.2 439.4,123.6 440.0,123.0 440.6,125.9 441.1,108.9 441.7,132.9 442.3,110.9 442.9,126.7 443.4,129.0 444.0,125.1 444.6,125.1 445.2,121.0 445.7,120.2 446.3,132.1 446.9,108.1 447.4,129.8 448.0,110.6 448.6,118.4 449.2,118.6 449.7,122.0 450.3,122.7 450.9,122.5 451.5,107.4 452.0,129.3 452.6,111.7 453.2,132.3 453.7,118.2 454.3,117.9 454.9,116.8 455.5,101.6 456.0,126.0 456.6,104.6 457.2,113.5 457.8,114.6 458.3,114.0 458.9,130.8 459.5,112.5 460.0,129.7 460.6,116.0 461.2,120.0 461.8,110.9 462.3,126.7 462.9,117.6 463.5,118.1 464.1,121.6 464.6,123.5 465.2,126.2 465.8,135.3 466.3,110.0 466.9,131.0 467.5,110.4 468.1,121.9 468.6,119.6 469.2,111.1 469.8,138.6 470.4,111.1 470.9,133.6 471.5,121.2 472.1,120.8 472.6,124.0 473.2,128.4 473.8,128.8 474.4,115.2 474.9,140.9 475.5,112.0 476.1,127.1 476.7,125.3 477.2,118.9 477.8,102.2 478.4,131.7 478.9,122.6 479.5,120.0 480.1,122.1 480.7,120.0 481.2,119.7 481.8,107.1 482.4,134.9 483.0,115.3 483.5,121.6 484.1,117.6 484.7,120.6 485.2,119.8 485.8,110.3 486.4,131.6 487.0,109.6 487.5,131.4 488.1,120.9 488.7,120.2 489.3,128.2 489.8,103.5 490.4,119.9 491.0,121.5 491.5,117.2 492.1,116.4 492.7,119.6 493.3,86.9 493.8,107.5 494.4,118.3 495.0,118.0 495.6,129.3 496.1,104.8 496.7,120.0 497.3,119.5 497.8,122.1 498.4,123.6 499.0,124.9 499.6,123.7 500.1,112.6 500.7,134.9 501.3,111.2 501.9,131.9 502.4,117.6 503.0,123.5 503.6,122.6 504.1,125.8 504.7,124.2 505.3,124.3 505.9,133.8 506.4,106.6 507.0,119.7 507.6,115.1 508.2,120.9 508.7,118.6 509.3,113.5 509.9,116.8 510.4,107.5 511.0,125.0 511.6,104.0 512.2,124.8 512.7,118.1 513.3,112.7 513.9,110.9 514.5,113.8 515.0,118.9 515.6,106.2 516.2,133.3 516.7,122.9 517.3,125.7 517.9,92.5 518.5,121.6 519.0,125.8 519.6,108.5 520.2,134.5 520.8,107.5 521.3,133.9 521.9,121.8 522.5,126.8 523.0,124.4 523.6,110.3 524.2,132.3 524.8,113.6 525.3,124.4 525.9,124.4 526.5,116.9 527.1,133.1 527.6,96.1 528.2,132.9 528.8,124.8 529.3,121.6 529.9,118.4 530.5,115.6 531.1,118.5 531.6,104.9 532.2,130.2 532.8,106.1 533.4,126.1 533.9,115.1 534.5,119.1 535.1,121.2 535.6,115.9 536.2,118.1 536.8,115.4 537.4,128.1 537.9,104.0 538.5,128.2 539.1,117.0 539.7,117.6 540.2,120.4 540.8,124.9" fill="none" stroke="#28aa5a" stroke-width="0.95" stroke-dasharray="3.3 1.7" stroke-opacity="0.8" stroke-linejoin="round"/>
<path d="M309.50 14.35V166.60H540.80" fill="none" stroke="#8c8c8c" stroke-width="0.9"/>
<path d="M307.50 166.60H309.50" stroke="#8c8c8c" stroke-width="0.8"/>
<text x="305.70" y="169.00" text-anchor="end">0.00</text>
<path d="M307.50 141.22H309.50" stroke="#8c8c8c" stroke-width="0.8"/>
<text x="305.70" y="143.62" text-anchor="end">0.05</text>
<path d="M307.50 115.85H309.50" stroke="#8c8c8c" stroke-width="0.8"/>
<text x="305.70" y="118.25" text-anchor="end">0.10</text>
<path d="M307.50 90.47H309.50" stroke="#8c8c8c" stroke-width="0.8"/>
<text x="305.70" y="92.87" text-anchor="end">0.15</text>
<path d="M307.50 65.10H309.50" stroke="#8c8c8c" stroke-width="0.8"/>
<text x="305.70" y="67.50" text-anchor="end">0.20</text>
<path d="M307.50 39.72H309.50" stroke="#8c8c8c" stroke-width="0.8"/>
<text x="305.70" y="42.12" text-anchor="end">0.25</text>
<path d="M307.50 14.35H309.50" stroke="#8c8c8c" stroke-width="0.8"/>
<text x="305.70" y="16.75" text-anchor="end">0.30</text>
<path d="M309.50 166.60V168.60" stroke="#8c8c8c" stroke-width="0.8"/>
<text x="309.50" y="175.20" text-anchor="middle">0</text>
<path d="M355.76 166.60V168.60" stroke="#8c8c8c" stroke-width="0.8"/>
<text x="355.76" y="175.20" text-anchor="middle">2</text>
<path d="M402.02 166.60V168.60" stroke="#8c8c8c" stroke-width="0.8"/>
<text x="402.02" y="175.20" text-anchor="middle">4</text>
<path d="M448.28 166.60V168.60" stroke="#8c8c8c" stroke-width="0.8"/>
<text x="448.28" y="175.20" text-anchor="middle">6</text>
<path d="M494.54 166.60V168.60" stroke="#8c8c8c" stroke-width="0.8"/>
<text x="494.54" y="175.20" text-anchor="middle">8</text>
<path d="M540.80 166.60V168.60" stroke="#8c8c8c" stroke-width="0.8"/>
<text x="540.80" y="175.20" text-anchor="middle">10</text>
<text x="425.15" y="183.60" text-anchor="middle">Time [s]</text>
<text transform="translate(286.70 90.47) rotate(-90)" text-anchor="middle" style="stroke-width:0.12px">Protocol delay (<tspan font-style="italic">T</tspan><tspan font-size="4.6" dy="1.2" font-style="italic">over</tspan><tspan dy="-1.2">) [s]</tspan></text>
<path d="M330.4 198.5h13.8" stroke="#f03c50" stroke-opacity="0.75" stroke-width="1.0"/>
<text x="349.6" y="200.9">LIA</text>
<path d="M373.8 198.5h13.8" stroke="#1e82e6" stroke-opacity="0.8" stroke-width="1.0" stroke-dasharray="1.2 1.1"/>
<text x="392.5" y="200.9">OLIA</text>
<path d="M422.3 198.5h13.8" stroke="#28aa5a" stroke-opacity="0.8" stroke-width="1.0" stroke-dasharray="3.3 1.7"/>
<text x="441.2" y="200.9">BALIA</text>
<path d="M473.2 198.5h13.8" stroke="#ff9628" stroke-opacity="0.4" stroke-width="1.0"/>
<text x="493.2" y="200.9">wVegas</text>
<text x="332.0" y="228.7" font-family='"Liberation Serif", "DejaVu Serif", serif' font-size="10" fill="#222" style="stroke-width:0.1px;stroke:#222" textLength="163.4" lengthAdjust="spacing">(<tspan font-weight="bold">b</tspan>) Protocol delay with Reno as SPTCP</text>
<polyline points="33.0,381.5 33.7,349.6 35.3,348.7 37.0,347.7 38.7,349.1 40.3,347.4 42.0,347.1 43.6,346.1 45.3,346.1 46.9,344.8 48.6,346.8 50.2,344.0 51.9,343.3 53.5,345.1 55.2,344.3 56.8,344.0 58.5,346.6 60.1,344.6 61.8,345.1 63.5,344.7 65.1,344.9 66.8,344.6 68.4,343.9 70.1,343.5 71.7,345.5 73.4,344.8 75.0,345.9 76.7,346.3 78.3,345.3 80.0,343.3 81.6,342.5 83.3,343.8 85.0,344.5 86.6,345.1 88.3,344.1 89.9,342.5 91.6,342.9 93.2,342.3 94.9,342.4 96.5,341.0 98.2,344.8 99.8,346.9 101.5,345.4 103.1,343.6 104.8,344.0 106.4,343.2 108.1,344.8 109.8,345.8 111.4,345.5 113.1,343.4 114.7,342.5 116.4,343.9 118.0,343.4 119.7,344.3 121.3,343.8 123.0,345.1 124.6,344.3 126.3,344.8 127.9,344.2 129.6,344.7 131.3,345.1 132.9,344.1 134.6,344.2 136.2,343.8 137.9,344.2 139.5,343.0 141.2,344.3 142.8,342.8 144.5,341.4 146.1,342.8 147.8,340.8 149.4,339.5 151.1,340.9 152.7,343.9 154.4,345.8 156.1,344.8 157.7,341.8 159.4,341.9 161.0,341.6 162.7,342.9 164.3,344.1 166.0,343.3 167.6,344.8 169.3,344.4 170.9,343.2 172.6,343.3 174.2,342.7 175.9,343.6 177.6,342.7 179.2,342.6 180.9,345.2 182.5,345.7 184.2,345.5 185.8,343.6 187.5,343.1 189.1,342.9 190.8,342.9 192.4,342.3 194.1,341.6 195.7,343.3 197.4,345.4 199.0,343.6 200.7,343.8 202.4,343.5 204.0,343.7 205.7,345.0 207.3,346.2 209.0,343.5 210.6,342.1 212.3,341.5 213.9,342.2 215.6,342.5 217.2,343.5 218.9,343.4 220.5,343.9 222.2,344.4 223.9,343.6 225.5,341.3 227.2,344.8 228.8,343.3 230.5,342.5 232.1,344.6 233.8,343.6 235.4,343.4 237.1,344.0 238.7,344.4 240.4,345.7 242.0,342.3 243.7,339.8 245.3,339.5 247.0,341.9 248.7,342.3 250.3,342.4 252.0,344.0 253.6,344.0 255.3,343.0 256.9,343.8 258.6,345.9 260.2,346.3 261.9,344.5 263.5,344.4" fill="none" stroke="#f03c50" stroke-width="1.05" stroke-dasharray="1 0.9" stroke-opacity="0.85" stroke-linejoin="round"/>
<polyline points="33.0,381.5 33.7,350.6 35.3,352.1 37.0,346.4 38.7,346.2 40.3,344.8 42.0,346.4 43.6,349.1 45.3,349.0 46.9,346.7 48.6,349.3 50.2,348.3 51.9,345.5 53.5,344.0 55.2,344.5 56.8,348.0 58.5,346.6 60.1,343.7 61.8,342.7 63.5,343.7 65.1,343.1 66.8,342.3 68.4,343.4 70.1,344.4 71.7,344.8 73.4,345.2 75.0,344.4 76.7,344.0 78.3,342.9 80.0,342.4 81.6,343.1 83.3,346.0 85.0,344.0 86.6,344.9 88.3,341.8 89.9,343.0 91.6,340.2 93.2,341.0 94.9,340.0 96.5,341.4 98.2,341.7 99.8,343.1 101.5,343.9 103.1,344.2 104.8,342.8 106.4,381.5 108.1,342.6 109.8,343.4 111.4,342.5 113.1,344.3 114.7,343.7 116.4,345.8 118.0,345.4 119.7,344.7 121.3,345.4 123.0,344.7 124.6,343.9 126.3,343.5 127.9,346.1 129.6,345.2 131.3,344.6 132.9,345.1 134.6,345.5 136.2,342.0 137.9,341.6 139.5,341.2 141.2,340.7 142.8,343.3 144.5,343.7 146.1,345.9 147.8,344.4 149.4,346.4 151.1,345.9 152.7,343.7 154.4,342.8 156.1,344.4 157.7,345.1 159.4,342.6 161.0,342.4 162.7,343.6 164.3,343.3 166.0,343.2 167.6,344.7 169.3,344.8 170.9,346.9 172.6,344.8 174.2,344.0 175.9,342.4 177.6,341.5 179.2,343.1 180.9,341.2 182.5,343.2 184.2,342.1 185.8,343.4 187.5,344.2 189.1,345.5 190.8,344.5 192.4,341.0 194.1,342.0 195.7,342.1 197.4,343.2 199.0,342.7 200.7,342.2 202.4,342.2 204.0,341.0 205.7,342.2 207.3,342.3 209.0,340.8 210.6,341.3 212.3,343.3 213.9,341.7 215.6,341.7 217.2,343.6 218.9,344.5 220.5,344.5 222.2,342.9 223.9,342.7 225.5,341.8 227.2,339.3 228.8,339.1 230.5,341.1 232.1,343.1 233.8,341.4 235.4,343.3 237.1,344.4 238.7,344.0 240.4,343.3 242.0,343.7 243.7,343.2 245.3,346.8 247.0,345.6 248.7,344.4 250.3,343.0 252.0,342.7 253.6,343.4 255.3,340.1 256.9,340.4 258.6,341.1 260.2,341.8 261.9,342.0 263.5,343.8" fill="none" stroke="#1e82e6" stroke-width="1.05" stroke-dasharray="1 0.9" stroke-opacity="0.85" stroke-linejoin="round"/>
<polyline points="33.0,381.5 33.7,347.7 35.3,347.7 37.0,350.6 38.7,350.1 40.3,349.7 42.0,348.4 43.6,347.5 45.3,347.7 46.9,346.5 48.6,346.9 50.2,346.4 51.9,346.8 53.5,345.8 55.2,346.2 56.8,345.8 58.5,346.2 60.1,346.9 61.8,343.7 63.5,344.7 65.1,342.6 66.8,343.3 68.4,343.4 70.1,343.3 71.7,344.5 73.4,346.2 75.0,343.8 76.7,343.3 78.3,345.5 80.0,345.4 81.6,345.3 83.3,342.9 85.0,342.5 86.6,343.0 88.3,341.8 89.9,342.1 91.6,343.7 93.2,345.4 94.9,343.1 96.5,345.5 98.2,342.9 99.8,345.5 101.5,345.4 103.1,342.8 104.8,342.0 106.4,341.2 108.1,344.3 109.8,344.3 111.4,343.9 113.1,344.2 114.7,344.6 116.4,343.7 118.0,343.6 119.7,344.8 121.3,344.9 123.0,344.5 124.6,344.0 126.3,344.1 127.9,345.8 129.6,344.5 131.3,343.3 132.9,341.3 134.6,343.1 136.2,342.1 137.9,343.5 139.5,341.8 141.2,342.8 142.8,343.0 144.5,343.5 146.1,343.2 147.8,343.1 149.4,345.1 151.1,343.4 152.7,344.7 154.4,344.3 156.1,342.6 157.7,343.3 159.4,344.2 161.0,341.6 162.7,340.6 164.3,340.1 166.0,340.4 167.6,341.2 169.3,342.0 170.9,344.6 172.6,345.2 174.2,345.4 175.9,342.9 177.6,340.0 179.2,340.6 180.9,342.2 182.5,341.0 184.2,342.3 185.8,343.1 187.5,343.3 189.1,341.9 190.8,341.0 192.4,341.8 194.1,343.9 195.7,342.5 197.4,344.0 199.0,344.9 200.7,344.9 202.4,345.6 204.0,345.4 205.7,342.1 207.3,344.1 209.0,343.8 210.6,345.6 212.3,345.6 213.9,345.0 215.6,344.1 217.2,343.6 218.9,343.6 220.5,344.5 222.2,342.0 223.9,341.8 225.5,343.3 227.2,343.7 228.8,344.2 230.5,343.8 232.1,344.5 233.8,343.0 235.4,342.0 237.1,342.9 238.7,342.7 240.4,343.8 242.0,341.9 243.7,343.2 245.3,342.6 247.0,342.5 248.7,344.2 250.3,346.2 252.0,345.8 253.6,346.0 255.3,345.6 256.9,344.6 258.6,344.1 260.2,344.5 261.9,341.7 263.5,344.2" fill="none" stroke="#28aa5a" stroke-width="1.05" stroke-dasharray="1 0.9" stroke-opacity="0.85" stroke-linejoin="round"/>
<polyline points="33.0,381.5 33.7,351.8 35.3,352.0 37.0,350.5 38.7,350.3 40.3,349.0 42.0,349.2 43.6,348.8 45.3,349.6 46.9,347.9 48.6,348.2 50.2,347.1 51.9,348.7 53.5,348.7 55.2,347.5 56.8,347.2 58.5,346.2 60.1,346.1 61.8,344.2 63.5,343.3 65.1,342.0 66.8,341.8 68.4,341.1 70.1,340.8 71.7,341.7 73.4,343.2 75.0,343.4 76.7,343.2 78.3,344.3 80.0,344.4 81.6,342.6 83.3,342.1 85.0,343.8 86.6,344.9 88.3,344.9 89.9,346.3 91.6,343.6 93.2,343.0 94.9,344.7 96.5,344.5 98.2,344.9 99.8,342.5 101.5,344.6 103.1,344.9 104.8,342.1 106.4,340.6 108.1,339.9 109.8,341.2 111.4,342.9 113.1,344.3 114.7,342.8 116.4,344.2 118.0,343.9 119.7,343.9 121.3,342.3 123.0,343.8 124.6,342.3 126.3,343.6 127.9,344.2 129.6,345.2 131.3,344.0 132.9,343.9 134.6,343.6 136.2,343.9 137.9,343.5 139.5,341.3 141.2,341.8 142.8,341.3 144.5,342.4 146.1,342.9 147.8,341.6 149.4,339.0 151.1,341.9 152.7,342.0 154.4,343.3 156.1,342.7 157.7,342.8 159.4,343.8 161.0,345.6 162.7,346.6 164.3,343.3 166.0,343.2 167.6,343.3 169.3,342.6 170.9,343.1 172.6,340.4 174.2,341.7 175.9,341.2 177.6,342.0 179.2,344.6 180.9,343.2 182.5,342.9 184.2,343.7 185.8,341.7 187.5,341.7 189.1,341.4 190.8,344.0 192.4,344.3 194.1,346.0 195.7,343.9 197.4,342.2 199.0,343.6 200.7,340.4 202.4,343.3 204.0,343.0 205.7,346.0 207.3,347.3 209.0,344.8 210.6,343.9 212.3,341.0 213.9,341.9 215.6,340.9 217.2,343.1 218.9,342.4 220.5,341.0 222.2,342.1 223.9,340.9 225.5,340.7 227.2,341.6 228.8,343.8 230.5,344.4 232.1,346.0 233.8,343.4 235.4,341.4 237.1,341.9 238.7,342.1 240.4,345.3 242.0,342.9 243.7,344.9 245.3,344.8 247.0,341.5 248.7,341.8 250.3,343.5 252.0,344.5 253.6,343.6 255.3,341.9 256.9,342.3 258.6,342.7 260.2,342.3 261.9,341.9 263.5,344.6" fill="none" stroke="#ff9628" stroke-width="1.05" stroke-dasharray="1 0.9" stroke-opacity="0.85" stroke-linejoin="round"/>
<polyline points="33.0,381.5 33.7,356.8 35.3,358.2 37.0,357.3 38.7,356.0 40.3,354.7 42.0,355.0 43.6,354.9 45.3,353.2 46.9,354.6 48.6,355.3 50.2,357.6 51.9,355.3 53.5,353.2 55.2,353.0 56.8,355.5 58.5,353.1 60.1,354.5 61.8,349.4 63.5,353.0 65.1,351.9 66.8,353.1 68.4,353.8 70.1,342.0 71.7,344.4 73.4,353.4 75.0,355.8 76.7,352.3 78.3,356.8 80.0,346.8 81.6,355.9 83.3,352.2 85.0,354.5 86.6,355.4 88.3,356.4 89.9,354.2 91.6,354.8 93.2,354.8 94.9,357.4 96.5,356.3 98.2,355.9 99.8,356.3 101.5,352.3 103.1,349.5 104.8,347.6 106.4,344.9 108.1,353.5 109.8,345.2 111.4,355.5 113.1,354.0 114.7,355.3 116.4,355.6 118.0,355.3 119.7,353.3 121.3,353.9 123.0,353.7 124.6,353.9 126.3,357.4 127.9,353.4 129.6,354.3 131.3,355.4 132.9,356.6 134.6,357.8 136.2,355.5 137.9,353.1 139.5,354.1 141.2,355.0 142.8,354.1 144.5,360.0 146.1,356.5 147.8,356.1 149.4,354.0 151.1,352.4 152.7,354.2 154.4,356.5 156.1,354.1 157.7,354.3 159.4,353.4 161.0,352.7 162.7,353.8 164.3,355.5 166.0,354.4 167.6,354.3 169.3,352.0 170.9,353.3 172.6,351.9 174.2,351.9 175.9,349.5 177.6,357.9 179.2,357.8 180.9,354.6 182.5,353.0 184.2,355.2 185.8,357.6 187.5,351.6 189.1,353.7 190.8,357.5 192.4,354.8 194.1,352.0 195.7,357.3 197.4,355.5 199.0,355.8 200.7,355.1 202.4,353.6 204.0,355.9 205.7,357.0 207.3,357.7 209.0,354.1 210.6,352.4 212.3,355.6 213.9,353.0 215.6,342.4 217.2,346.6 218.9,355.4 220.5,355.4 222.2,352.4 223.9,353.3 225.5,355.5 227.2,348.0 228.8,350.1 230.5,352.6 232.1,350.8 233.8,349.8 235.4,353.7 237.1,357.1 238.7,357.8 240.4,347.5 242.0,356.9 243.7,352.2 245.3,354.4 247.0,355.4 248.7,352.2 250.3,354.0 252.0,348.7 253.6,347.4 255.3,345.6 256.9,356.9 258.6,356.0 260.2,354.8 261.9,354.4 263.5,353.6" fill="none" stroke="#ff9628" stroke-width="1.05" stroke-opacity="0.72" stroke-linejoin="round"/>
<polyline points="33.0,381.5 33.7,352.7 35.3,358.7 37.0,363.0 38.7,342.4 40.3,356.6 42.0,353.9 43.6,354.0 45.3,355.3 46.9,353.2 48.6,351.5 50.2,355.0 51.9,353.7 53.5,352.7 55.2,355.6 56.8,354.5 58.5,355.1 60.1,353.3 61.8,352.7 63.5,358.0 65.1,356.8 66.8,353.6 68.4,353.8 70.1,356.6 71.7,356.7 73.4,357.8 75.0,355.8 76.7,357.8 78.3,354.3 80.0,353.5 81.6,351.8 83.3,352.1 85.0,352.3 86.6,352.6 88.3,353.3 89.9,357.9 91.6,355.4 93.2,356.8 94.9,360.1 96.5,354.5 98.2,345.6 99.8,358.1 101.5,355.9 103.1,354.9 104.8,354.8 106.4,352.6 108.1,356.2 109.8,354.2 111.4,356.6 113.1,355.1 114.7,354.1 116.4,355.7 118.0,351.2 119.7,356.8 121.3,358.5 123.0,357.5 124.6,357.8 126.3,354.4 127.9,356.0 128.6,352.2 129.8,333.9 130.7,333.9 131.9,352.2 132.9,354.0 134.6,353.4 136.2,354.4 137.9,353.8 139.5,345.4 141.2,342.7 142.8,349.6 144.5,353.7 146.1,353.8 147.8,352.8 149.4,353.3 151.1,351.1 152.7,349.1 154.4,356.3 156.1,356.7 157.7,353.6 159.4,353.7 161.0,356.0 162.7,356.0 164.3,355.4 166.0,352.5 167.6,355.9 169.3,355.2 170.9,352.7 172.6,352.5 174.2,354.4 175.9,355.5 177.6,358.5 179.2,359.6 180.9,344.1 182.5,355.2 184.2,353.9 185.8,352.5 187.5,352.7 189.1,353.0 190.8,354.1 192.4,356.3 194.1,353.6 195.7,355.3 197.4,358.5 199.0,355.9 200.7,355.4 202.4,351.2 204.0,354.2 205.7,354.3 207.3,357.0 209.0,354.8 210.6,354.7 212.3,356.6 213.9,355.5 215.6,357.7 217.2,355.3 218.9,356.2 220.5,355.1 222.2,356.9 223.9,357.4 225.5,356.5 227.2,354.4 228.8,354.8 230.5,359.3 232.1,355.8 233.8,355.8 235.4,354.5 237.1,353.1 238.7,353.1 240.4,355.8 242.0,356.2 243.7,354.9 245.3,353.5 247.0,356.0 248.7,356.8 250.3,357.7 252.0,355.7 253.6,356.8 255.3,352.0 256.9,352.6 258.6,352.3 260.2,353.1 261.9,355.6 263.5,359.9" fill="none" stroke="#f03c50" stroke-width="1.05" stroke-opacity="0.72" stroke-linejoin="round"/>
<polyline points="33.0,381.5 33.7,356.4 35.3,356.8 37.0,355.9 38.7,356.5 40.3,343.0 42.0,343.5 43.6,347.3 45.3,346.8 46.9,357.5 48.6,357.6 50.2,357.1 51.9,355.2 53.5,358.0 55.2,349.2 56.8,353.0 58.5,353.8 60.1,357.0 61.8,354.1 63.5,354.6 65.1,342.8 66.8,346.9 68.4,350.9 70.1,354.5 71.7,356.3 73.4,351.7 75.0,355.1 76.7,353.5 78.3,356.0 80.0,343.1 81.6,345.7 83.3,347.3 85.0,355.0 86.6,355.5 88.3,352.6 89.9,351.4 91.6,348.6 93.2,341.2 94.9,351.6 96.5,352.6 98.2,353.4 99.8,352.7 101.5,347.0 103.1,348.6 104.8,349.2 106.4,352.5 108.1,358.0 109.8,356.1 111.4,356.2 113.1,347.8 114.7,348.4 116.4,353.3 118.0,343.8 119.7,347.7 121.3,348.3 123.0,348.5 124.6,345.1 126.3,346.5 127.9,357.5 129.6,352.8 131.3,354.4 132.9,354.1 134.6,353.7 136.2,357.2 137.9,354.0 139.5,354.3 141.2,354.8 142.8,353.9 144.5,354.2 146.1,354.6 147.8,357.0 149.4,356.0 151.1,354.3 152.7,356.1 154.4,354.0 156.1,321.4 157.7,354.1 159.4,354.5 161.0,356.6 162.7,356.0 164.3,356.4 166.0,356.9 167.6,357.2 169.3,359.6 170.9,357.4 172.6,356.2 174.2,357.3 175.9,358.7 177.6,355.4 179.2,345.6 180.9,344.5 182.5,344.4 184.2,348.0 185.8,344.9 187.5,344.3 189.1,353.6 190.8,356.1 192.4,357.1 194.1,353.7 195.7,356.4 197.4,355.4 199.0,354.9 200.7,357.5 202.4,351.8 204.0,357.4 205.7,356.9 207.3,344.7 209.0,354.5 210.6,355.4 212.3,353.5 213.9,353.0 215.6,342.3 217.2,347.7 218.9,347.1 220.5,349.4 222.2,346.2 223.9,313.6 225.5,352.1 227.2,354.0 228.8,355.6 230.5,355.1 232.1,354.6 233.8,354.7 235.4,355.3 237.1,354.1 238.7,355.3 240.4,354.6 242.0,354.6 243.7,352.9 245.3,355.2 247.0,347.6 248.7,344.9 250.3,354.4 252.0,354.1 253.6,355.1 255.3,352.0 256.9,355.4 258.6,345.0 260.2,344.9 261.9,355.2 263.5,356.9" fill="none" stroke="#28aa5a" stroke-width="1.05" stroke-opacity="0.72" stroke-linejoin="round"/>
<polyline points="33.0,381.5 33.7,349.3 35.3,358.6 37.0,354.8 38.7,356.3 40.3,354.8 42.0,350.4 43.6,358.1 45.3,358.4 46.9,357.9 48.6,357.1 50.2,359.2 51.9,356.9 53.5,348.5 55.2,358.6 56.8,359.5 58.5,359.2 60.1,358.6 61.8,353.8 63.5,353.6 65.1,357.0 66.8,351.5 68.4,352.6 70.1,356.6 71.7,359.0 73.4,356.3 75.0,358.8 76.7,356.6 78.3,354.5 80.0,356.7 81.6,357.3 83.3,357.8 85.0,354.2 86.6,354.0 88.3,354.1 89.9,353.6 91.6,354.9 93.2,356.4 94.9,355.4 96.5,354.0 98.2,355.2 99.8,355.8 101.5,357.4 103.1,353.9 104.8,353.6 106.4,354.4 108.1,354.8 109.8,354.6 111.4,355.0 113.1,353.6 114.7,354.4 116.4,353.8 118.0,354.7 119.7,356.2 121.3,353.8 123.0,352.8 124.6,351.7 126.3,354.7 127.7,350.8 128.4,334.2 129.1,321.0 130.3,317.4 131.4,321.0 132.1,334.2 132.8,350.8 132.9,357.4 134.6,354.2 136.2,357.0 137.9,354.4 139.5,357.2 141.2,356.4 142.8,353.6 144.5,355.6 146.1,354.8 147.8,354.0 149.4,357.2 151.1,352.3 152.7,356.5 154.4,356.4 156.1,355.5 157.7,354.8 159.4,353.5 161.0,352.6 162.7,356.7 164.3,356.2 166.0,359.4 167.6,356.6 169.3,357.1 170.9,355.5 172.6,358.5 174.2,358.6 175.9,355.9 177.6,342.0 179.2,355.6 180.9,356.3 182.5,356.8 184.2,357.0 185.8,357.2 187.5,351.7 189.1,352.7 190.8,357.2 192.4,356.9 194.1,357.8 195.7,356.1 197.4,352.0 199.0,352.0 200.7,353.8 202.4,354.1 204.0,355.2 205.7,357.1 207.3,357.2 209.0,354.2 210.6,357.7 212.3,354.2 213.9,350.9 215.6,353.5 217.2,352.7 218.9,354.0 220.5,355.4 222.2,359.0 223.9,358.1 225.5,353.8 227.2,354.7 228.8,355.7 230.5,352.8 232.1,354.5 233.8,358.5 235.4,357.6 237.1,353.7 238.7,352.8 240.4,354.9 242.0,353.8 243.7,355.0 245.3,351.0 247.0,352.3 248.7,352.1 250.3,353.2 252.0,352.6 253.6,353.0 255.3,354.2 256.9,355.6 258.6,356.0 260.2,341.6 261.9,343.8 263.5,353.6" fill="none" stroke="#1e82e6" stroke-width="1.05" stroke-opacity="0.72" stroke-linejoin="round"/>
<path d="M33.00 239.60V381.50H264.00" fill="none" stroke="#8c8c8c" stroke-width="0.9"/>
<path d="M31.00 381.50H33.00" stroke="#8c8c8c" stroke-width="0.8"/>
<text x="29.20" y="383.90" text-anchor="end">0.00</text>
<path d="M31.00 357.85H33.00" stroke="#8c8c8c" stroke-width="0.8"/>
<text x="29.20" y="360.25" text-anchor="end">0.05</text>
<path d="M31.00 334.20H33.00" stroke="#8c8c8c" stroke-width="0.8"/>
<text x="29.20" y="336.60" text-anchor="end">0.10</text>
<path d="M31.00 310.55H33.00" stroke="#8c8c8c" stroke-width="0.8"/>
<text x="29.20" y="312.95" text-anchor="end">0.15</text>
<path d="M31.00 286.90H33.00" stroke="#8c8c8c" stroke-width="0.8"/>
<text x="29.20" y="289.30" text-anchor="end">0.20</text>
<path d="M31.00 263.25H33.00" stroke="#8c8c8c" stroke-width="0.8"/>
<text x="29.20" y="265.65" text-anchor="end">0.25</text>
<path d="M31.00 239.60H33.00" stroke="#8c8c8c" stroke-width="0.8"/>
<text x="29.20" y="242.00" text-anchor="end">0.30</text>
<path d="M33.00 381.50V383.50" stroke="#8c8c8c" stroke-width="0.8"/>
<text x="33.00" y="390.50" text-anchor="middle">0</text>
<path d="M79.20 381.50V383.50" stroke="#8c8c8c" stroke-width="0.8"/>
<text x="79.20" y="390.50" text-anchor="middle">2</text>
<path d="M125.40 381.50V383.50" stroke="#8c8c8c" stroke-width="0.8"/>
<text x="125.40" y="390.50" text-anchor="middle">4</text>
<path d="M171.60 381.50V383.50" stroke="#8c8c8c" stroke-width="0.8"/>
<text x="171.60" y="390.50" text-anchor="middle">6</text>
<path d="M217.80 381.50V383.50" stroke="#8c8c8c" stroke-width="0.8"/>
<text x="217.80" y="390.50" text-anchor="middle">8</text>
<path d="M264.00 381.50V383.50" stroke="#8c8c8c" stroke-width="0.8"/>
<text x="264.00" y="390.50" text-anchor="middle">10</text>
<text x="148.50" y="398.80" text-anchor="middle">Time [s]</text>
<text transform="translate(10.30 310.55) rotate(-90)" text-anchor="middle" style="stroke-width:0.12px">Path delay (τ<tspan font-size="4.6" dy="1.2">i</tspan><tspan dy="-1.2">) [s]</tspan></text>
<path d="M34.0 412.1h13.8" stroke="#f03c50" stroke-opacity="0.75" stroke-width="1.3" stroke-dasharray="1.1 1.2"/>
<path d="M34.0 422.3h13.8" stroke="#f03c50" stroke-opacity="0.55" stroke-width="1.6"/>
<text x="53.8" y="414.5">LIA τ<tspan font-size="5.2" dy="1.6">1</tspan></text>
<text x="53.8" y="424.7">LIA τ<tspan font-size="5.2" dy="1.6">2</tspan></text>
<path d="M86.9 412.1h13.8" stroke="#1e82e6" stroke-opacity="0.75" stroke-width="1.3" stroke-dasharray="1.1 1.2"/>
<path d="M86.9 422.3h13.8" stroke="#1e82e6" stroke-opacity="0.55" stroke-width="1.6"/>
<text x="106.3" y="414.5">OLIA τ<tspan font-size="5.2" dy="1.6">1</tspan></text>
<text x="106.3" y="424.7">OLIA τ<tspan font-size="5.2" dy="1.6">2</tspan></text>
<path d="M145.0 412.1h13.8" stroke="#28aa5a" stroke-opacity="0.75" stroke-width="1.3" stroke-dasharray="1.1 1.2"/>
<path d="M145.0 422.3h13.8" stroke="#28aa5a" stroke-opacity="0.55" stroke-width="1.6"/>
<text x="164.7" y="414.5">BALIA τ<tspan font-size="5.2" dy="1.6">1</tspan></text>
<text x="164.7" y="424.7">BALIA τ<tspan font-size="5.2" dy="1.6">2</tspan></text>
<path d="M207.4 412.1h13.8" stroke="#ff9628" stroke-opacity="0.75" stroke-width="1.3" stroke-dasharray="1.1 1.2"/>
<path d="M207.4 422.3h13.8" stroke="#ff9628" stroke-opacity="0.55" stroke-width="1.6"/>
<text x="227.0" y="414.5">wVegas τ<tspan font-size="5.2" dy="1.6">1</tspan></text>
<text x="227.0" y="424.7">wVegas τ<tspan font-size="5.2" dy="1.6">2</tspan></text>
<text x="62.7" y="445.2" font-family='"Liberation Serif", "DejaVu Serif", serif' font-size="10" fill="#222" style="stroke-width:0.1px;stroke:#222" textLength="148.3" lengthAdjust="spacing">(<tspan font-weight="bold">c</tspan>) Path Delay with Cubic as SPTCP</text>
<polyline points="309.5,391.6 310.4,368.8 311.4,361.2 312.3,346.9 312.8,368.8 313.4,327.6 314.0,350.2 314.6,349.1 315.1,321.8 315.7,368.8 316.3,310.0 316.9,345.1 317.4,346.7 318.0,350.3 318.6,323.1 319.1,368.8 319.7,350.2 320.3,346.2 320.9,365.3 321.4,325.2 322.0,346.7 322.6,345.7 323.2,347.3 323.7,356.9 324.3,326.8 324.9,367.3 325.4,345.3 326.0,345.7 326.6,349.5 327.2,343.9 327.7,313.6 328.3,347.0 328.9,324.0 329.5,363.1 330.0,330.6 330.6,365.5 331.2,350.0 331.7,349.9 332.3,361.9 332.9,331.5 333.5,346.4 334.0,343.9 334.6,356.5 335.2,322.4 335.8,342.7 336.3,343.8 336.9,340.6 337.5,341.4 338.0,313.6 338.6,353.5 339.2,327.1 339.8,342.5 340.3,346.1 340.9,342.7 341.5,344.1 342.1,341.1 342.6,345.5 343.2,331.8 343.8,358.6 344.3,330.8 344.9,359.4 345.5,350.4 346.1,349.8 346.6,346.2 347.2,345.6 347.8,346.7 348.4,350.0 348.9,338.8 349.5,356.8 350.1,345.1 350.6,344.6 351.2,346.4 351.8,344.2 352.4,343.4 352.9,353.5 353.5,331.1 354.1,354.8 354.7,350.9 355.2,351.1 355.8,350.4 356.4,342.3 356.9,360.4 357.5,348.6 358.1,347.6 358.7,348.6 359.2,349.2 359.8,349.2 360.4,357.4 361.0,334.0 361.5,345.0 362.1,348.2 362.7,336.4 363.2,354.6 363.8,333.0 364.4,354.4 365.0,344.5 365.5,348.9 366.1,350.8 366.7,360.7 367.3,339.1 367.8,357.9 368.4,340.7 369.0,352.2 369.5,347.0 370.1,347.9 370.7,345.2 371.3,344.6 371.8,337.8 372.4,361.1 373.0,339.5 373.6,345.4 374.1,343.6 374.7,344.7 375.3,343.7 375.9,346.2 376.4,348.0 377.0,333.9 377.6,352.6 378.1,336.5 378.7,358.5 379.3,350.3 379.9,350.1 380.4,347.1 381.0,349.2 381.6,358.0 382.2,336.6 382.7,361.3 383.3,344.4 383.9,349.0 384.4,347.8 385.0,345.4 385.6,343.3 386.2,343.8 386.7,355.0 387.3,330.4 387.9,351.9 388.5,332.1 389.0,344.0 389.6,347.6 390.2,354.9 390.7,337.9 391.3,360.2 391.9,349.8 392.5,350.9 393.0,350.1 393.6,338.7 394.2,358.9 394.8,343.7 395.3,357.4 395.9,349.0 396.5,347.0 397.0,348.6 397.6,348.5 398.2,349.9 398.8,340.1 399.3,361.0 399.9,336.7 400.5,343.9 401.1,344.1 401.6,346.3 402.2,332.5 402.8,359.3 403.3,345.6 403.9,340.7 404.5,342.6 405.1,345.4 405.6,343.4 406.2,349.6 406.8,358.4 407.4,335.2 407.9,357.8 408.5,335.7 409.1,345.5 409.6,348.3 410.2,350.7 410.8,350.7 411.4,355.7 411.9,339.3 412.5,349.9 413.1,350.2 413.7,346.3 414.2,345.6 414.8,347.7 415.4,337.0 415.9,359.6 416.5,350.6 417.1,354.0 417.7,354.5 418.2,349.5 418.8,338.0 419.4,356.6 420.0,335.2 420.5,353.1 421.1,341.0 421.7,341.5 422.2,353.0 422.8,334.8 423.4,356.4 424.0,330.3 424.5,344.2 425.1,344.5 425.7,350.7 426.3,333.2 426.8,344.7 427.4,339.9 428.0,341.3 428.5,335.3 429.1,354.0 429.7,338.2 430.3,340.7 430.8,349.6 431.4,332.1 432.0,354.9 432.6,345.9 433.1,342.0 433.7,342.3 434.3,344.2 434.8,342.5 435.4,342.6 436.0,326.0 436.6,347.4 437.1,340.4 437.7,347.2 438.3,345.8 438.9,349.3 439.4,355.4 440.0,336.7 440.6,354.9 441.1,334.9 441.7,347.5 442.3,349.8 442.9,348.8 443.4,350.6 444.0,339.3 444.6,357.2 445.2,347.2 445.7,350.2 446.3,347.2 446.9,343.7 447.4,347.0 448.0,336.5 448.6,357.3 449.2,334.5 449.7,358.9 450.3,341.9 450.9,344.3 451.5,344.9 452.0,349.2 452.6,342.5 453.2,344.9 453.7,356.0 454.3,339.0 454.9,345.8 455.5,344.2 456.0,355.5 456.6,335.5 457.2,344.9 457.8,340.5 458.3,340.0 458.9,344.0 459.5,346.4 460.0,345.1 460.6,331.0 461.2,347.1 461.8,334.9 462.3,357.0 462.9,342.8 463.5,346.3 464.1,347.2 464.6,345.9 465.2,349.4 465.8,347.7 466.3,356.2 466.9,338.1 467.5,359.1 468.1,339.1 468.6,345.7 469.2,346.0 469.8,346.3 470.4,348.7 470.9,346.5 471.5,345.8 472.1,336.7 472.6,356.6 473.2,347.1 473.8,349.1 474.4,348.9 474.9,346.7 475.5,346.2 476.1,337.7 476.7,355.8 477.2,339.9 477.8,343.9 478.4,345.2 478.9,345.3 479.5,346.3 480.1,347.6 480.7,331.2 481.2,355.5 481.8,330.6 482.4,352.0 483.0,348.0 483.5,350.4 484.1,346.2 484.7,332.8 485.2,358.8 485.8,332.6 486.4,344.3 487.0,339.3 487.5,341.4 488.1,356.3 488.7,334.8 489.3,349.8 489.8,346.3 490.4,347.1 491.0,344.4 491.5,349.0 492.1,352.7 492.7,340.4 493.3,351.5 493.8,348.9 494.4,345.5 495.0,344.7 495.6,348.3 496.1,335.0 496.7,358.0 497.3,346.9 497.8,344.0 498.4,342.7 499.0,343.7 499.6,354.6 500.1,331.9 500.7,353.9 501.3,334.3 501.9,342.5 502.4,342.6 503.0,340.5 503.6,342.8 504.1,346.3 504.7,360.1 505.3,342.7 505.9,350.4 506.4,346.0 507.0,350.6 507.6,352.2 508.2,335.1 508.7,355.5 509.3,335.2 509.9,344.2 510.4,347.1 511.0,345.7 511.6,344.6 512.2,346.9 512.7,348.3 513.3,337.9 513.9,357.0 514.5,337.3 515.0,343.8 515.6,345.4 516.2,348.4 516.7,348.1 517.3,347.4 517.9,344.6 518.5,357.0 519.0,338.0 519.6,359.8 520.2,348.9 520.8,348.1 521.3,347.1 521.9,343.9 522.5,342.2 523.0,360.7 523.6,330.6 524.2,354.1 524.8,336.9 525.3,342.7 525.9,345.7 526.5,348.1 527.1,335.0 527.6,356.0 528.2,347.6 528.8,343.7 529.3,328.2 529.9,349.6 530.5,341.1 531.1,342.1 531.6,351.6 532.2,328.1 532.8,346.2 533.4,342.5 533.9,339.3 534.5,353.1 535.1,332.5 535.6,357.1 536.2,341.7 536.8,348.0 537.4,348.4 537.9,353.0 538.5,337.6 539.1,353.9 539.7,340.2 540.2,355.6 540.8,347.2" fill="none" stroke="#ff9628" stroke-width="0.95" stroke-opacity="0.5" stroke-linejoin="round"/>
<polyline points="309.5,391.6 310.4,368.8 311.4,361.2 312.3,315.1 312.8,367.4 313.4,324.8 314.0,362.2 314.6,345.6 315.1,343.3 315.7,344.7 316.3,347.8 316.9,349.6 317.4,330.6 318.0,368.8 318.6,299.4 319.1,365.3 319.7,345.7 320.3,346.6 320.9,343.9 321.4,342.9 322.0,317.8 322.6,366.2 323.2,329.2 323.7,363.9 324.3,343.3 324.9,345.4 325.4,314.6 326.0,346.5 326.6,341.2 327.2,365.7 327.7,322.3 328.3,341.7 328.9,343.5 329.5,343.9 330.0,346.7 330.6,346.4 331.2,358.3 331.7,315.6 332.3,355.1 332.9,331.9 333.5,342.1 334.0,347.1 334.6,348.4 335.2,349.9 335.8,348.2 336.3,332.1 336.9,353.2 337.5,344.4 338.0,343.9 338.6,342.9 339.2,346.2 339.8,354.1 340.3,333.0 340.9,358.7 341.5,349.8 342.1,347.8 342.6,333.0 343.2,363.3 343.8,339.4 344.3,351.3 344.9,349.5 345.5,347.4 346.1,349.9 346.6,333.6 347.2,355.2 347.8,334.8 348.4,347.3 348.9,344.4 349.5,356.4 350.1,328.5 350.6,351.9 351.2,332.8 351.8,346.4 352.4,345.0 352.9,345.7 353.5,343.9 354.1,345.0 354.7,342.1 355.2,353.7 355.8,329.5 356.4,352.9 356.9,343.1 357.5,349.3 358.1,349.1 358.7,350.5 359.2,356.9 359.8,335.9 360.4,356.2 361.0,350.5 361.5,349.5 362.1,349.2 362.7,345.6 363.2,348.5 363.8,348.8 364.4,340.2 365.0,359.9 365.5,347.1 366.1,347.1 366.7,360.0 367.3,340.5 367.8,361.4 368.4,354.5 369.0,353.6 369.5,352.8 370.1,337.8 370.7,363.6 371.3,353.3 371.8,348.8 372.4,347.6 373.0,360.0 373.6,339.2 374.1,349.7 374.7,347.2 375.3,346.9 375.9,343.8 376.4,346.9 377.0,352.5 377.6,334.6 378.1,358.5 378.7,344.0 379.3,342.6 379.9,353.3 380.4,335.4 381.0,345.3 381.6,340.9 382.2,352.8 382.7,335.7 383.3,357.9 383.9,331.3 384.4,351.4 385.0,348.6 385.6,333.4 386.2,359.9 386.7,349.9 387.3,348.1 387.9,357.1 388.5,337.2 389.0,355.1 389.6,346.7 390.2,348.0 390.7,353.2 391.3,333.4 391.9,357.7 392.5,329.7 393.0,341.6 393.6,346.9 394.2,349.9 394.8,349.7 395.3,347.6 395.9,348.4 396.5,356.5 397.0,339.1 397.6,360.4 398.2,332.2 398.8,344.4 399.3,348.6 399.9,350.2 400.5,347.5 401.1,347.2 401.6,346.0 402.2,354.2 402.8,328.2 403.3,356.6 403.9,349.3 404.5,346.1 405.1,340.2 405.6,341.6 406.2,346.1 406.8,355.3 407.4,332.9 407.9,347.2 408.5,345.5 409.1,350.8 409.6,359.5 410.2,337.3 410.8,359.9 411.4,356.2 411.9,349.6 412.5,363.9 413.1,338.1 413.7,363.0 414.2,336.7 414.8,350.3 415.4,349.8 415.9,337.8 416.5,355.2 417.1,350.0 417.7,347.6 418.2,343.5 418.8,344.4 419.4,343.8 420.0,343.3 420.5,350.2 421.1,331.0 421.7,347.4 422.2,341.3 422.8,347.0 423.4,342.9 424.0,322.1 424.5,352.4 425.1,326.9 425.7,339.9 426.3,343.7 426.8,344.6 427.4,342.0 428.0,340.5 428.5,334.5 429.1,352.0 429.7,334.6 430.3,356.4 430.8,349.9 431.4,348.0 432.0,356.0 432.6,332.1 433.1,356.8 433.7,348.2 434.3,319.1 434.8,345.0 435.4,335.0 436.0,355.6 436.6,347.7 437.1,348.3 437.7,333.5 438.3,362.4 438.9,335.7 439.4,352.3 440.0,349.4 440.6,352.3 441.1,347.4 441.7,344.7 442.3,342.8 442.9,357.4 443.4,338.5 444.0,359.0 444.6,340.0 445.2,350.3 445.7,343.1 446.3,344.6 446.9,346.2 447.4,348.1 448.0,349.1 448.6,355.8 449.2,337.3 449.7,344.9 450.3,346.0 450.9,347.6 451.5,348.0 452.0,352.4 452.6,362.4 453.2,337.5 453.7,357.4 454.3,331.2 454.9,342.1 455.5,341.3 456.0,345.2 456.6,344.9 457.2,345.6 457.8,340.8 458.3,352.7 458.9,332.1 459.5,345.1 460.0,347.3 460.6,339.6 461.2,352.7 461.8,332.3 462.3,355.1 462.9,333.2 463.5,344.3 464.1,347.6 464.6,351.7 465.2,338.1 465.8,356.2 466.3,345.4 466.9,345.9 467.5,357.2 468.1,333.8 468.6,348.1 469.2,348.5 469.8,347.8 470.4,351.6 470.9,361.5 471.5,337.5 472.1,349.8 472.6,347.8 473.2,347.9 473.8,350.3 474.4,346.5 474.9,348.9 475.5,363.8 476.1,331.7 476.7,315.1 477.2,343.2 477.8,339.1 478.4,317.6 478.9,341.7 479.5,341.6 480.1,332.0 480.7,356.1 481.2,332.2 481.8,348.2 482.4,344.3 483.0,329.6 483.5,352.4 484.1,330.9 484.7,344.2 485.2,343.1 485.8,348.1 486.4,348.8 487.0,352.5 487.5,339.3 488.1,361.8 488.7,340.0 489.3,364.5 489.8,349.9 490.4,347.4 491.0,348.8 491.5,347.9 492.1,346.3 492.7,339.1 493.3,357.7 493.8,350.1 494.4,347.6 495.0,349.0 495.6,344.0 496.1,345.2 496.7,352.3 497.3,333.1 497.8,355.1 498.4,343.1 499.0,343.4 499.6,345.4 500.1,352.7 500.7,347.5 501.3,362.8 501.9,337.9 502.4,345.7 503.0,344.6 503.6,342.7 504.1,350.5 504.7,327.4 505.3,356.0 505.9,340.9 506.4,345.3 507.0,344.7 507.6,343.7 508.2,340.1 508.7,348.5 509.3,331.1 509.9,354.2 510.4,343.5 511.0,340.8 511.6,343.4 512.2,344.3 512.7,342.9 513.3,354.9 513.9,323.7 514.5,353.1 515.0,341.7 515.6,345.0 516.2,344.5 516.7,348.9 517.3,353.6 517.9,335.5 518.5,353.6 519.0,330.2 519.6,347.7 520.2,346.9 520.8,350.1 521.3,348.0 521.9,348.6 522.5,353.8 523.0,360.0 523.6,335.5 524.2,356.6 524.8,335.6 525.3,350.6 525.9,348.2 526.5,362.3 527.1,333.4 527.6,345.0 528.2,316.1 528.8,346.9 529.3,339.7 529.9,331.2 530.5,351.7 531.1,336.1 531.6,356.9 532.2,345.4 532.8,342.2 533.4,344.2 533.9,348.6 534.5,361.4 535.1,339.8 535.6,356.7 536.2,345.9 536.8,345.2 537.4,344.7 537.9,347.6 538.5,332.2 539.1,357.4 539.7,346.7 540.2,346.7 540.8,346.2" fill="none" stroke="#f03c50" stroke-width="0.95" stroke-opacity="0.75" stroke-linejoin="round"/>
<polyline points="309.5,391.6 310.4,368.8 311.4,361.2 312.3,353.1 312.8,351.8 313.4,336.6 314.0,364.6 314.6,330.3 315.1,349.7 315.7,347.4 316.3,350.9 316.9,353.0 317.4,368.8 318.0,329.0 318.6,363.2 319.1,331.1 319.7,351.0 320.3,351.2 320.9,324.2 321.4,365.7 322.0,326.8 322.6,364.8 323.2,345.7 323.7,342.5 324.3,342.7 324.9,344.5 325.4,391.6 326.0,362.6 326.6,327.7 327.2,347.2 327.7,344.2 328.3,344.1 328.9,362.9 329.5,326.5 330.0,360.7 330.6,349.5 331.2,346.4 331.7,348.0 332.3,351.1 332.9,349.1 333.5,347.3 334.0,334.0 334.6,362.0 335.2,325.4 335.8,345.1 336.3,347.2 336.9,349.8 337.5,350.1 338.0,345.8 338.6,348.1 339.2,356.5 339.8,334.7 340.3,356.4 340.9,333.3 341.5,345.1 342.1,343.8 342.6,334.9 343.2,359.2 343.8,344.4 344.3,350.8 344.9,351.5 345.5,351.0 346.1,353.9 346.6,351.0 347.2,359.7 347.8,337.0 348.4,358.3 348.9,350.8 349.5,348.3 350.1,346.7 350.6,350.2 351.2,359.2 351.8,329.9 352.4,356.9 352.9,332.4 353.5,348.9 354.1,347.5 354.7,346.1 355.2,358.2 355.8,332.5 356.4,357.3 356.9,333.0 357.5,348.1 358.1,347.8 358.7,345.7 359.2,345.7 359.8,359.8 360.4,330.6 361.0,360.7 361.5,337.2 362.1,346.9 362.7,351.6 363.2,352.6 363.8,351.4 364.4,347.4 365.0,327.0 365.5,355.2 366.1,345.0 366.7,349.5 367.3,346.8 367.8,350.2 368.4,337.2 369.0,391.6 369.5,351.2 370.1,344.9 370.7,349.9 371.3,349.6 371.8,360.8 372.4,329.2 373.0,344.4 373.6,347.1 374.1,349.3 374.7,345.2 375.3,344.0 375.9,343.7 376.4,330.1 377.0,358.8 377.6,346.5 378.1,348.1 378.7,355.4 379.3,335.1 379.9,347.7 380.4,344.9 381.0,357.3 381.6,333.8 382.2,355.8 382.7,327.9 383.3,345.4 383.9,341.2 384.4,340.2 385.0,340.5 385.6,345.3 386.2,330.9 386.7,318.6 387.3,331.6 387.9,345.7 388.5,346.0 389.0,343.5 389.6,339.3 390.2,320.7 390.7,344.9 391.3,330.6 391.9,354.0 392.5,315.6 393.0,347.7 393.6,347.3 394.2,318.1 394.8,350.9 395.3,336.6 395.9,356.9 396.5,346.6 397.0,346.9 397.6,347.3 398.2,347.8 398.8,357.1 399.3,332.0 399.9,358.0 400.5,351.3 401.1,352.9 401.6,356.9 402.2,333.1 402.8,341.3 403.3,340.9 403.9,334.4 404.5,355.5 405.1,332.9 405.6,314.6 406.2,348.9 406.8,362.7 407.4,320.7 407.9,357.4 408.5,337.4 409.1,349.0 409.6,344.3 410.2,346.2 410.8,358.8 411.4,333.3 411.9,346.9 412.5,350.8 413.1,359.4 413.7,342.6 414.2,350.4 414.8,350.6 415.4,344.4 415.9,355.9 416.5,329.5 417.1,358.9 417.7,330.8 418.2,347.0 418.8,341.4 419.4,342.3 420.0,354.8 420.5,334.9 421.1,343.9 421.7,348.1 422.2,348.8 422.8,347.2 423.4,349.4 424.0,344.6 424.5,334.5 425.1,356.4 425.7,346.7 426.3,346.0 426.8,342.2 427.4,343.9 428.0,341.3 428.5,327.8 429.1,357.7 429.7,336.3 430.3,352.2 430.8,344.6 431.4,338.5 432.0,344.4 432.6,342.6 433.1,339.6 433.7,326.4 434.3,357.5 434.8,330.7 435.4,343.5 436.0,344.0 436.6,341.6 437.1,342.3 437.7,344.5 438.3,344.2 438.9,334.6 439.4,356.7 440.0,346.5 440.6,345.8 441.1,356.6 441.7,338.2 442.3,347.7 442.9,349.8 443.4,332.8 444.0,357.1 444.6,344.5 445.2,346.8 445.7,343.8 446.3,345.4 446.9,346.6 447.4,335.6 448.0,353.0 448.6,346.4 449.2,346.4 449.7,332.0 450.3,358.9 450.9,348.4 451.5,346.8 452.0,347.0 452.6,350.3 453.2,347.2 453.7,361.3 454.3,338.5 454.9,350.3 455.5,352.2 456.0,365.2 456.6,338.4 457.2,350.6 457.8,348.6 458.3,348.5 458.9,351.3 459.5,347.2 460.0,361.0 460.6,335.0 461.2,366.1 461.8,351.0 462.3,351.6 462.9,347.6 463.5,346.8 464.1,321.7 464.6,343.9 465.2,353.4 465.8,331.7 466.3,352.6 466.9,334.7 467.5,343.7 468.1,338.2 468.6,342.0 469.2,340.5 469.8,339.1 470.4,346.4 470.9,352.9 471.5,337.3 472.1,360.5 472.6,337.1 473.2,343.9 473.8,344.0 474.4,342.6 474.9,344.7 475.5,353.6 476.1,336.6 476.7,353.8 477.2,331.9 477.8,343.3 478.4,343.5 478.9,329.5 479.5,351.4 480.1,322.1 480.7,353.0 481.2,343.3 481.8,341.8 482.4,340.9 483.0,340.0 483.5,351.6 484.1,334.3 484.7,355.4 485.2,326.3 485.8,343.3 486.4,342.2 487.0,347.0 487.5,362.9 488.1,335.7 488.7,354.8 489.3,333.6 489.8,345.0 490.4,347.5 491.0,363.0 491.5,333.9 492.1,358.8 492.7,346.5 493.3,345.1 493.8,346.6 494.4,349.4 495.0,347.7 495.6,343.3 496.1,356.8 496.7,335.6 497.3,355.8 497.8,343.2 498.4,339.3 499.0,343.8 499.6,343.8 500.1,344.7 500.7,334.6 501.3,356.3 501.9,334.9 502.4,356.1 503.0,346.8 503.6,348.8 504.1,348.2 504.7,346.9 505.3,343.2 505.9,344.3 506.4,333.7 507.0,354.1 507.6,335.7 508.2,358.7 508.7,344.8 509.3,340.6 509.9,344.4 510.4,346.0 511.0,346.9 511.6,332.2 512.2,360.3 512.7,347.0 513.3,347.3 513.9,356.4 514.5,331.3 515.0,357.3 515.6,337.6 516.2,343.3 516.7,348.3 517.3,327.2 517.9,355.7 518.5,348.8 519.0,347.1 519.6,347.6 520.2,344.5 520.8,349.8 521.3,336.7 521.9,357.8 522.5,335.6 523.0,349.2 523.6,349.6 524.2,354.7 524.8,348.9 525.3,343.1 525.9,366.8 526.5,312.6 527.1,347.2 527.6,345.0 528.2,347.4 528.8,354.9 529.3,328.2 529.9,353.5 530.5,330.8 531.1,339.7 531.6,343.7 532.2,343.2 532.8,343.0 533.4,330.1 533.9,349.1 534.5,343.9 535.1,337.6 535.6,339.3 536.2,332.0 536.8,351.2 537.4,324.2 537.9,344.2 538.5,344.6 539.1,348.8 539.7,347.3 540.2,347.9 540.8,350.0" fill="none" stroke="#1e82e6" stroke-width="0.95" stroke-dasharray="1.2 1.1" stroke-opacity="0.8" stroke-linejoin="round"/>
<polyline points="309.5,391.6 310.4,368.8 311.4,361.2 312.3,345.1 312.8,343.7 313.4,346.3 314.0,324.8 314.6,314.6 315.1,323.2 315.7,361.7 316.3,344.5 316.9,341.9 317.4,313.6 318.0,341.5 318.6,339.8 319.1,344.7 319.7,321.7 320.3,360.4 320.9,323.0 321.4,359.0 322.0,340.7 322.6,342.0 323.2,344.1 323.7,347.0 324.3,356.4 324.9,323.5 325.4,357.2 326.0,327.4 326.6,346.5 327.2,340.9 327.7,341.8 328.3,341.3 328.9,340.4 329.5,315.6 330.0,320.6 330.6,359.0 331.2,333.6 331.7,360.7 332.3,344.3 332.9,345.5 333.5,348.3 334.0,348.3 334.6,346.4 335.2,361.9 335.8,336.5 336.3,348.4 336.9,347.2 337.5,350.4 338.0,343.4 338.6,333.3 339.2,357.3 339.8,335.9 340.3,341.8 340.9,338.1 341.5,324.4 342.1,347.8 342.6,325.4 343.2,358.0 343.8,338.4 344.3,344.4 344.9,337.6 345.5,342.5 346.1,342.9 346.6,328.6 347.2,356.9 347.8,345.7 348.4,346.0 348.9,352.1 349.5,351.1 350.1,349.5 350.6,352.1 351.2,341.1 351.8,361.9 352.4,334.3 352.9,358.3 353.5,349.9 354.1,347.9 354.7,351.1 355.2,361.9 355.8,338.9 356.4,351.0 356.9,348.2 357.5,353.5 358.1,351.5 358.7,357.4 359.2,335.0 359.8,358.3 360.4,338.9 361.0,346.8 361.5,345.5 362.1,358.1 362.7,333.7 363.2,344.7 363.8,345.9 364.4,346.0 365.0,341.4 365.5,355.8 366.1,334.4 366.7,357.6 367.3,346.5 367.8,349.5 368.4,335.4 369.0,358.0 369.5,343.4 370.1,351.0 370.7,352.3 371.3,349.5 371.8,348.5 372.4,351.9 373.0,346.4 373.6,335.0 374.1,359.7 374.7,331.8 375.3,347.7 375.9,345.3 376.4,346.0 377.0,350.0 377.6,343.4 378.1,341.4 378.7,351.6 379.3,335.1 379.9,354.1 380.4,330.4 381.0,346.0 381.6,343.5 382.2,338.0 382.7,341.9 383.3,339.7 383.9,343.7 384.4,351.0 385.0,330.4 385.6,349.9 386.2,339.6 386.7,345.9 387.3,336.3 387.9,351.0 388.5,333.4 389.0,340.3 389.6,344.2 390.2,341.0 390.7,338.8 391.3,339.8 391.9,341.7 392.5,331.2 393.0,354.3 393.6,343.6 394.2,344.1 394.8,356.1 395.3,328.5 395.9,356.5 396.5,346.0 397.0,346.3 397.6,346.7 398.2,340.0 398.8,357.9 399.3,330.7 399.9,356.3 400.5,349.7 401.1,345.5 401.6,348.5 402.2,355.0 402.8,335.2 403.3,354.7 403.9,347.1 404.5,347.0 405.1,346.9 405.6,354.7 406.2,339.1 406.8,357.7 407.4,332.3 407.9,347.5 408.5,352.5 409.1,346.6 409.6,332.4 410.2,355.5 410.8,331.3 411.4,344.2 411.9,345.8 412.5,360.0 413.1,339.1 413.7,345.0 414.2,346.1 414.8,350.9 415.4,331.4 415.9,354.5 416.5,333.2 417.1,341.0 417.7,345.3 418.2,346.0 418.8,344.3 419.4,345.9 420.0,326.0 420.5,354.4 421.1,345.0 421.7,347.3 422.2,347.3 422.8,343.9 423.4,344.8 424.0,343.1 424.5,348.3 425.1,331.2 425.7,340.8 426.3,339.9 426.8,342.2 427.4,333.4 428.0,352.0 428.5,330.5 429.1,342.3 429.7,338.4 430.3,347.0 430.8,345.7 431.4,316.6 432.0,334.0 432.6,357.7 433.1,339.6 433.7,354.4 434.3,344.6 434.8,346.4 435.4,346.6 436.0,347.1 436.6,344.5 437.1,331.6 437.7,357.9 438.3,332.8 438.9,347.3 439.4,345.8 440.0,346.7 440.6,344.9 441.1,358.0 441.7,333.3 442.3,349.6 442.9,339.1 443.4,343.7 444.0,343.8 444.6,322.2 445.2,357.3 445.7,346.0 446.3,346.9 446.9,359.7 447.4,336.5 448.0,358.1 448.6,347.6 449.2,346.9 449.7,331.7 450.3,356.9 450.9,349.3 451.5,347.9 452.0,337.1 452.6,359.1 453.2,333.9 453.7,346.9 454.3,346.7 454.9,344.8 455.5,333.2 456.0,352.8 456.6,332.5 457.2,354.8 457.8,351.1 458.3,347.7 458.9,344.9 459.5,355.6 460.0,330.6 460.6,342.3 461.2,341.8 461.8,346.1 462.3,349.7 462.9,329.2 463.5,352.3 464.1,330.6 464.6,341.9 465.2,344.7 465.8,344.8 466.3,352.9 466.9,332.6 467.5,358.0 468.1,344.2 468.6,344.3 469.2,346.3 469.8,347.5 470.4,348.9 470.9,346.4 471.5,331.2 472.1,354.3 472.6,342.5 473.2,345.2 473.8,346.5 474.4,349.4 474.9,345.9 475.5,345.8 476.1,355.9 476.7,334.6 477.2,346.0 477.8,345.0 478.4,344.8 478.9,344.6 479.5,354.1 480.1,334.1 480.7,352.8 481.2,345.7 481.8,345.3 482.4,346.7 483.0,330.5 483.5,358.7 484.1,349.2 484.7,345.8 485.2,346.0 485.8,342.0 486.4,328.9 487.0,357.2 487.5,346.0 488.1,346.4 488.7,347.3 489.3,316.6 489.8,361.7 490.4,349.0 491.0,349.3 491.5,315.6 492.1,356.4 492.7,334.9 493.3,355.9 493.8,343.4 494.4,343.7 495.0,358.1 495.6,336.8 496.1,360.0 496.7,345.7 497.3,345.7 497.8,347.6 498.4,315.6 499.0,340.4 499.6,343.1 500.1,353.5 500.7,335.4 501.3,315.6 501.9,343.1 502.4,334.4 503.0,355.2 503.6,339.7 504.1,351.6 504.7,349.3 505.3,350.7 505.9,334.4 506.4,359.0 507.0,346.9 507.6,342.7 508.2,316.6 508.7,340.7 509.3,332.6 509.9,356.0 510.4,336.8 511.0,357.0 511.6,354.0 512.2,351.8 512.7,348.3 513.3,339.0 513.9,355.7 514.5,336.8 515.0,355.9 515.6,352.2 516.2,348.6 516.7,349.0 517.3,355.0 517.9,348.8 518.5,348.7 519.0,355.9 519.6,336.7 520.2,357.1 520.8,342.6 521.3,345.8 521.9,334.8 522.5,315.6 523.0,332.7 523.6,353.1 524.2,341.7 524.8,337.9 525.3,342.7 525.9,348.2 526.5,335.0 527.1,343.0 527.6,343.7 528.2,345.2 528.8,344.8 529.3,352.1 529.9,336.8 530.5,346.4 531.1,343.6 531.6,345.2 532.2,344.6 532.8,333.4 533.4,355.0 533.9,332.9 534.5,356.9 535.1,343.8 535.6,344.9 536.2,320.2 536.8,361.3 537.4,349.5 537.9,348.4 538.5,344.9 539.1,351.5 539.7,332.6 540.2,346.0 540.8,346.7" fill="none" stroke="#28aa5a" stroke-width="0.95" stroke-dasharray="3.3 1.7" stroke-opacity="0.8" stroke-linejoin="round"/>
<path d="M309.50 239.59V391.60H540.80" fill="none" stroke="#8c8c8c" stroke-width="0.9"/>
<path d="M307.50 391.60H309.50" stroke="#8c8c8c" stroke-width="0.8"/>
<text x="305.70" y="394.00" text-anchor="end">0.00</text>
<path d="M307.50 366.27H309.50" stroke="#8c8c8c" stroke-width="0.8"/>
<text x="305.70" y="368.67" text-anchor="end">0.05</text>
<path d="M307.50 340.93H309.50" stroke="#8c8c8c" stroke-width="0.8"/>
<text x="305.70" y="343.33" text-anchor="end">0.10</text>
<path d="M307.50 315.60H309.50" stroke="#8c8c8c" stroke-width="0.8"/>
<text x="305.70" y="318.00" text-anchor="end">0.15</text>
<path d="M307.50 290.26H309.50" stroke="#8c8c8c" stroke-width="0.8"/>
<text x="305.70" y="292.66" text-anchor="end">0.20</text>
<path d="M307.50 264.93H309.50" stroke="#8c8c8c" stroke-width="0.8"/>
<text x="305.70" y="267.32" text-anchor="end">0.25</text>
<path d="M307.50 239.59H309.50" stroke="#8c8c8c" stroke-width="0.8"/>
<text x="305.70" y="241.99" text-anchor="end">0.30</text>
<path d="M309.50 391.60V393.60" stroke="#8c8c8c" stroke-width="0.8"/>
<text x="309.50" y="400.60" text-anchor="middle">0</text>
<path d="M355.76 391.60V393.60" stroke="#8c8c8c" stroke-width="0.8"/>
<text x="355.76" y="400.60" text-anchor="middle">2</text>
<path d="M402.02 391.60V393.60" stroke="#8c8c8c" stroke-width="0.8"/>
<text x="402.02" y="400.60" text-anchor="middle">4</text>
<path d="M448.28 391.60V393.60" stroke="#8c8c8c" stroke-width="0.8"/>
<text x="448.28" y="400.60" text-anchor="middle">6</text>
<path d="M494.54 391.60V393.60" stroke="#8c8c8c" stroke-width="0.8"/>
<text x="494.54" y="400.60" text-anchor="middle">8</text>
<path d="M540.80 391.60V393.60" stroke="#8c8c8c" stroke-width="0.8"/>
<text x="540.80" y="400.60" text-anchor="middle">10</text>
<text x="425.15" y="408.70" text-anchor="middle">Time [s]</text>
<text transform="translate(286.70 315.60) rotate(-90)" text-anchor="middle" style="stroke-width:0.12px">Protocol delay (<tspan font-style="italic">T</tspan><tspan font-size="4.6" dy="1.2" font-style="italic">over</tspan><tspan dy="-1.2">) [s]</tspan></text>
<path d="M330.4 423.2h13.8" stroke="#f03c50" stroke-opacity="0.75" stroke-width="1.0"/>
<text x="349.6" y="425.6">LIA</text>
<path d="M373.8 423.2h13.8" stroke="#1e82e6" stroke-opacity="0.8" stroke-width="1.0" stroke-dasharray="1.2 1.1"/>
<text x="392.5" y="425.6">OLIA</text>
<path d="M422.3 423.2h13.8" stroke="#28aa5a" stroke-opacity="0.8" stroke-width="1.0" stroke-dasharray="3.3 1.7"/>
<text x="441.2" y="425.6">BALIA</text>
<path d="M473.2 423.2h13.8" stroke="#ff9628" stroke-opacity="0.4" stroke-width="1.0"/>
<text x="493.2" y="425.6">wVegas</text>
<text x="330.1" y="445.4" font-family='"Liberation Serif", "DejaVu Serif", serif' font-size="10" fill="#222" style="stroke-width:0.1px;stroke:#222" textLength="166.8" lengthAdjust="spacing">(<tspan font-weight="bold">d</tspan>) Protocol delay with Cubic as SPTCP</text>
</svg></body></html>
